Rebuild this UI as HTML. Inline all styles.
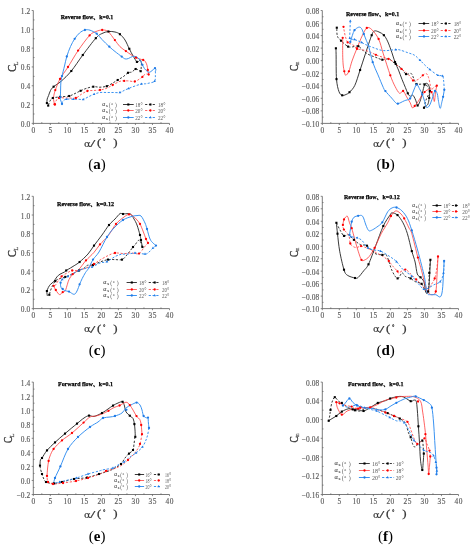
<!DOCTYPE html>
<html><head><meta charset="utf-8"><title>Figure</title><style>html,body{margin:0;padding:0;background:#fff;}svg{display:block;}</style></head><body>
<svg width="474" height="550" viewBox="0 0 474 550">
<style>text{font-family:"Liberation Serif","Noto Serif CJK SC",serif;} .tl{font-size:7.4px;fill:#5c5c5c;stroke:#5c5c5c;stroke-width:0.15px;} .ttl{font-size:6.6px;font-weight:bold;fill:#000;stroke:#000;stroke-width:0.25px;} .lg{font-size:5.6px;fill:#5a5a5a;} .ax{fill:#333;} .pl{fill:#000;}</style>
<rect width="474" height="550" fill="#fff"/>
<path d="M33.30,10.50 V123.40 H169.50" fill="none" stroke="#585858" stroke-width="0.8"/>
<path d="M33.30,123.40 h-1.6 M33.30,113.99 h1.2 M33.30,104.58 h-1.6 M33.30,95.17 h1.2 M33.30,85.77 h-1.6 M33.30,76.36 h1.2 M33.30,66.95 h-1.6 M33.30,57.54 h1.2 M33.30,48.13 h-1.6 M33.30,38.72 h1.2 M33.30,29.32 h-1.6 M33.30,19.91 h1.2 M33.30,10.50 h-1.6 M33.30,123.40 v1.6 M41.81,123.40 v-1.2 M50.32,123.40 v1.6 M58.84,123.40 v-1.2 M67.35,123.40 v1.6 M75.86,123.40 v-1.2 M84.38,123.40 v1.6 M92.89,123.40 v-1.2 M101.40,123.40 v1.6 M109.91,123.40 v-1.2 M118.42,123.40 v1.6 M126.94,123.40 v-1.2 M135.45,123.40 v1.6 M143.96,123.40 v-1.2 M152.47,123.40 v1.6 M160.99,123.40 v-1.2 M169.50,123.40 v1.6" stroke="#585858" stroke-width="0.7" fill="none"/>
<text x="30.30" y="126.90" text-anchor="end" textLength="9.45" lengthAdjust="spacing" class="tl">0.0</text>
<text x="30.30" y="108.08" text-anchor="end" textLength="9.45" lengthAdjust="spacing" class="tl">0.2</text>
<text x="30.30" y="89.27" text-anchor="end" textLength="9.45" lengthAdjust="spacing" class="tl">0.4</text>
<text x="30.30" y="70.45" text-anchor="end" textLength="9.45" lengthAdjust="spacing" class="tl">0.6</text>
<text x="30.30" y="51.63" text-anchor="end" textLength="9.45" lengthAdjust="spacing" class="tl">0.8</text>
<text x="30.30" y="32.82" text-anchor="end" textLength="9.45" lengthAdjust="spacing" class="tl">1.0</text>
<text x="30.30" y="14.00" text-anchor="end" textLength="9.45" lengthAdjust="spacing" class="tl">1.2</text>
<text x="33.30" y="133.20" text-anchor="middle" textLength="3.55" lengthAdjust="spacing" class="tl">0</text>
<text x="50.32" y="133.20" text-anchor="middle" textLength="3.55" lengthAdjust="spacing" class="tl">5</text>
<text x="67.35" y="133.20" text-anchor="middle" textLength="7.80" lengthAdjust="spacing" class="tl">10</text>
<text x="84.38" y="133.20" text-anchor="middle" textLength="7.80" lengthAdjust="spacing" class="tl">15</text>
<text x="101.40" y="133.20" text-anchor="middle" textLength="7.80" lengthAdjust="spacing" class="tl">20</text>
<text x="118.42" y="133.20" text-anchor="middle" textLength="7.80" lengthAdjust="spacing" class="tl">25</text>
<text x="135.45" y="133.20" text-anchor="middle" textLength="7.80" lengthAdjust="spacing" class="tl">30</text>
<text x="152.47" y="133.20" text-anchor="middle" textLength="7.80" lengthAdjust="spacing" class="tl">35</text>
<text x="169.50" y="133.20" text-anchor="middle" textLength="7.80" lengthAdjust="spacing" class="tl">40</text>
<path d="M322.30,10.50 V123.40 H458.50" fill="none" stroke="#585858" stroke-width="0.8"/>
<path d="M322.30,123.40 h-1.6 M322.30,117.13 h1.2 M322.30,110.86 h-1.6 M322.30,104.58 h1.2 M322.30,98.31 h-1.6 M322.30,92.04 h1.2 M322.30,85.77 h-1.6 M322.30,79.49 h1.2 M322.30,73.22 h-1.6 M322.30,66.95 h1.2 M322.30,60.68 h-1.6 M322.30,54.41 h1.2 M322.30,48.13 h-1.6 M322.30,41.86 h1.2 M322.30,35.59 h-1.6 M322.30,29.32 h1.2 M322.30,23.04 h-1.6 M322.30,16.77 h1.2 M322.30,10.50 h-1.6 M322.30,123.40 v1.6 M330.81,123.40 v-1.2 M339.32,123.40 v1.6 M347.84,123.40 v-1.2 M356.35,123.40 v1.6 M364.86,123.40 v-1.2 M373.38,123.40 v1.6 M381.89,123.40 v-1.2 M390.40,123.40 v1.6 M398.91,123.40 v-1.2 M407.43,123.40 v1.6 M415.94,123.40 v-1.2 M424.45,123.40 v1.6 M432.96,123.40 v-1.2 M441.48,123.40 v1.6 M449.99,123.40 v-1.2 M458.50,123.40 v1.6" stroke="#585858" stroke-width="0.7" fill="none"/>
<text x="319.30" y="126.90" text-anchor="end" textLength="17.70" lengthAdjust="spacing" class="tl">−0.10</text>
<text x="319.30" y="114.36" text-anchor="end" textLength="17.70" lengthAdjust="spacing" class="tl">−0.08</text>
<text x="319.30" y="101.81" text-anchor="end" textLength="17.70" lengthAdjust="spacing" class="tl">−0.06</text>
<text x="319.30" y="89.27" text-anchor="end" textLength="17.70" lengthAdjust="spacing" class="tl">−0.04</text>
<text x="319.30" y="76.72" text-anchor="end" textLength="17.70" lengthAdjust="spacing" class="tl">−0.02</text>
<text x="319.30" y="64.18" text-anchor="end" textLength="13.25" lengthAdjust="spacing" class="tl">0.00</text>
<text x="319.30" y="51.63" text-anchor="end" textLength="13.25" lengthAdjust="spacing" class="tl">0.02</text>
<text x="319.30" y="39.09" text-anchor="end" textLength="13.25" lengthAdjust="spacing" class="tl">0.04</text>
<text x="319.30" y="26.54" text-anchor="end" textLength="13.25" lengthAdjust="spacing" class="tl">0.06</text>
<text x="319.30" y="14.00" text-anchor="end" textLength="13.25" lengthAdjust="spacing" class="tl">0.08</text>
<text x="322.30" y="133.20" text-anchor="middle" textLength="3.55" lengthAdjust="spacing" class="tl">0</text>
<text x="339.32" y="133.20" text-anchor="middle" textLength="3.55" lengthAdjust="spacing" class="tl">5</text>
<text x="356.35" y="133.20" text-anchor="middle" textLength="7.80" lengthAdjust="spacing" class="tl">10</text>
<text x="373.38" y="133.20" text-anchor="middle" textLength="7.80" lengthAdjust="spacing" class="tl">15</text>
<text x="390.40" y="133.20" text-anchor="middle" textLength="7.80" lengthAdjust="spacing" class="tl">20</text>
<text x="407.43" y="133.20" text-anchor="middle" textLength="7.80" lengthAdjust="spacing" class="tl">25</text>
<text x="424.45" y="133.20" text-anchor="middle" textLength="7.80" lengthAdjust="spacing" class="tl">30</text>
<text x="441.48" y="133.20" text-anchor="middle" textLength="7.80" lengthAdjust="spacing" class="tl">35</text>
<text x="458.50" y="133.20" text-anchor="middle" textLength="7.80" lengthAdjust="spacing" class="tl">40</text>
<path d="M33.30,196.30 V308.60 H169.50" fill="none" stroke="#585858" stroke-width="0.8"/>
<path d="M33.30,308.60 h-1.6 M33.30,299.24 h1.2 M33.30,289.88 h-1.6 M33.30,280.53 h1.2 M33.30,271.17 h-1.6 M33.30,261.81 h1.2 M33.30,252.45 h-1.6 M33.30,243.09 h1.2 M33.30,233.73 h-1.6 M33.30,224.38 h1.2 M33.30,215.02 h-1.6 M33.30,205.66 h1.2 M33.30,196.30 h-1.6 M33.30,308.60 v1.6 M41.81,308.60 v-1.2 M50.32,308.60 v1.6 M58.84,308.60 v-1.2 M67.35,308.60 v1.6 M75.86,308.60 v-1.2 M84.38,308.60 v1.6 M92.89,308.60 v-1.2 M101.40,308.60 v1.6 M109.91,308.60 v-1.2 M118.42,308.60 v1.6 M126.94,308.60 v-1.2 M135.45,308.60 v1.6 M143.96,308.60 v-1.2 M152.47,308.60 v1.6 M160.99,308.60 v-1.2 M169.50,308.60 v1.6" stroke="#585858" stroke-width="0.7" fill="none"/>
<text x="30.30" y="312.10" text-anchor="end" textLength="9.45" lengthAdjust="spacing" class="tl">0.0</text>
<text x="30.30" y="293.38" text-anchor="end" textLength="9.45" lengthAdjust="spacing" class="tl">0.2</text>
<text x="30.30" y="274.67" text-anchor="end" textLength="9.45" lengthAdjust="spacing" class="tl">0.4</text>
<text x="30.30" y="255.95" text-anchor="end" textLength="9.45" lengthAdjust="spacing" class="tl">0.6</text>
<text x="30.30" y="237.23" text-anchor="end" textLength="9.45" lengthAdjust="spacing" class="tl">0.8</text>
<text x="30.30" y="218.52" text-anchor="end" textLength="9.45" lengthAdjust="spacing" class="tl">1.0</text>
<text x="30.30" y="199.80" text-anchor="end" textLength="9.45" lengthAdjust="spacing" class="tl">1.2</text>
<text x="33.30" y="318.40" text-anchor="middle" textLength="3.55" lengthAdjust="spacing" class="tl">0</text>
<text x="50.32" y="318.40" text-anchor="middle" textLength="3.55" lengthAdjust="spacing" class="tl">5</text>
<text x="67.35" y="318.40" text-anchor="middle" textLength="7.80" lengthAdjust="spacing" class="tl">10</text>
<text x="84.38" y="318.40" text-anchor="middle" textLength="7.80" lengthAdjust="spacing" class="tl">15</text>
<text x="101.40" y="318.40" text-anchor="middle" textLength="7.80" lengthAdjust="spacing" class="tl">20</text>
<text x="118.42" y="318.40" text-anchor="middle" textLength="7.80" lengthAdjust="spacing" class="tl">25</text>
<text x="135.45" y="318.40" text-anchor="middle" textLength="7.80" lengthAdjust="spacing" class="tl">30</text>
<text x="152.47" y="318.40" text-anchor="middle" textLength="7.80" lengthAdjust="spacing" class="tl">35</text>
<text x="169.50" y="318.40" text-anchor="middle" textLength="7.80" lengthAdjust="spacing" class="tl">40</text>
<path d="M322.30,196.30 V308.60 H458.50" fill="none" stroke="#585858" stroke-width="0.8"/>
<path d="M322.30,308.60 h-1.6 M322.30,302.36 h1.2 M322.30,296.12 h-1.6 M322.30,289.88 h1.2 M322.30,283.64 h-1.6 M322.30,277.41 h1.2 M322.30,271.17 h-1.6 M322.30,264.93 h1.2 M322.30,258.69 h-1.6 M322.30,252.45 h1.2 M322.30,246.21 h-1.6 M322.30,239.97 h1.2 M322.30,233.73 h-1.6 M322.30,227.49 h1.2 M322.30,221.26 h-1.6 M322.30,215.02 h1.2 M322.30,208.78 h-1.6 M322.30,202.54 h1.2 M322.30,196.30 h-1.6 M322.30,308.60 v1.6 M330.81,308.60 v-1.2 M339.32,308.60 v1.6 M347.84,308.60 v-1.2 M356.35,308.60 v1.6 M364.86,308.60 v-1.2 M373.38,308.60 v1.6 M381.89,308.60 v-1.2 M390.40,308.60 v1.6 M398.91,308.60 v-1.2 M407.43,308.60 v1.6 M415.94,308.60 v-1.2 M424.45,308.60 v1.6 M432.96,308.60 v-1.2 M441.48,308.60 v1.6 M449.99,308.60 v-1.2 M458.50,308.60 v1.6" stroke="#585858" stroke-width="0.7" fill="none"/>
<text x="319.30" y="312.10" text-anchor="end" textLength="17.70" lengthAdjust="spacing" class="tl">−0.10</text>
<text x="319.30" y="299.62" text-anchor="end" textLength="17.70" lengthAdjust="spacing" class="tl">−0.08</text>
<text x="319.30" y="287.14" text-anchor="end" textLength="17.70" lengthAdjust="spacing" class="tl">−0.06</text>
<text x="319.30" y="274.67" text-anchor="end" textLength="17.70" lengthAdjust="spacing" class="tl">−0.04</text>
<text x="319.30" y="262.19" text-anchor="end" textLength="17.70" lengthAdjust="spacing" class="tl">−0.02</text>
<text x="319.30" y="249.71" text-anchor="end" textLength="13.25" lengthAdjust="spacing" class="tl">0.00</text>
<text x="319.30" y="237.23" text-anchor="end" textLength="13.25" lengthAdjust="spacing" class="tl">0.02</text>
<text x="319.30" y="224.76" text-anchor="end" textLength="13.25" lengthAdjust="spacing" class="tl">0.04</text>
<text x="319.30" y="212.28" text-anchor="end" textLength="13.25" lengthAdjust="spacing" class="tl">0.06</text>
<text x="319.30" y="199.80" text-anchor="end" textLength="13.25" lengthAdjust="spacing" class="tl">0.08</text>
<text x="322.30" y="318.40" text-anchor="middle" textLength="3.55" lengthAdjust="spacing" class="tl">0</text>
<text x="339.32" y="318.40" text-anchor="middle" textLength="3.55" lengthAdjust="spacing" class="tl">5</text>
<text x="356.35" y="318.40" text-anchor="middle" textLength="7.80" lengthAdjust="spacing" class="tl">10</text>
<text x="373.38" y="318.40" text-anchor="middle" textLength="7.80" lengthAdjust="spacing" class="tl">15</text>
<text x="390.40" y="318.40" text-anchor="middle" textLength="7.80" lengthAdjust="spacing" class="tl">20</text>
<text x="407.43" y="318.40" text-anchor="middle" textLength="7.80" lengthAdjust="spacing" class="tl">25</text>
<text x="424.45" y="318.40" text-anchor="middle" textLength="7.80" lengthAdjust="spacing" class="tl">30</text>
<text x="441.48" y="318.40" text-anchor="middle" textLength="7.80" lengthAdjust="spacing" class="tl">35</text>
<text x="458.50" y="318.40" text-anchor="middle" textLength="7.80" lengthAdjust="spacing" class="tl">40</text>
<path d="M33.30,382.10 V494.50 H169.50" fill="none" stroke="#585858" stroke-width="0.8"/>
<path d="M33.30,494.50 h-1.6 M33.30,487.48 h1.2 M33.30,480.45 h-1.6 M33.30,473.43 h1.2 M33.30,466.40 h-1.6 M33.30,459.38 h1.2 M33.30,452.35 h-1.6 M33.30,445.32 h1.2 M33.30,438.30 h-1.6 M33.30,431.28 h1.2 M33.30,424.25 h-1.6 M33.30,417.23 h1.2 M33.30,410.20 h-1.6 M33.30,403.18 h1.2 M33.30,396.15 h-1.6 M33.30,389.12 h1.2 M33.30,382.10 h-1.6 M33.30,494.50 v1.6 M41.81,494.50 v-1.2 M50.32,494.50 v1.6 M58.84,494.50 v-1.2 M67.35,494.50 v1.6 M75.86,494.50 v-1.2 M84.38,494.50 v1.6 M92.89,494.50 v-1.2 M101.40,494.50 v1.6 M109.91,494.50 v-1.2 M118.42,494.50 v1.6 M126.94,494.50 v-1.2 M135.45,494.50 v1.6 M143.96,494.50 v-1.2 M152.47,494.50 v1.6 M160.99,494.50 v-1.2 M169.50,494.50 v1.6" stroke="#585858" stroke-width="0.7" fill="none"/>
<text x="30.30" y="498.00" text-anchor="end" textLength="13.90" lengthAdjust="spacing" class="tl">−0.2</text>
<text x="30.30" y="483.95" text-anchor="end" textLength="9.45" lengthAdjust="spacing" class="tl">0.0</text>
<text x="30.30" y="469.90" text-anchor="end" textLength="9.45" lengthAdjust="spacing" class="tl">0.2</text>
<text x="30.30" y="455.85" text-anchor="end" textLength="9.45" lengthAdjust="spacing" class="tl">0.4</text>
<text x="30.30" y="441.80" text-anchor="end" textLength="9.45" lengthAdjust="spacing" class="tl">0.6</text>
<text x="30.30" y="427.75" text-anchor="end" textLength="9.45" lengthAdjust="spacing" class="tl">0.8</text>
<text x="30.30" y="413.70" text-anchor="end" textLength="9.45" lengthAdjust="spacing" class="tl">1.0</text>
<text x="30.30" y="399.65" text-anchor="end" textLength="9.45" lengthAdjust="spacing" class="tl">1.2</text>
<text x="30.30" y="385.60" text-anchor="end" textLength="9.45" lengthAdjust="spacing" class="tl">1.4</text>
<text x="33.30" y="504.30" text-anchor="middle" textLength="3.55" lengthAdjust="spacing" class="tl">0</text>
<text x="50.32" y="504.30" text-anchor="middle" textLength="3.55" lengthAdjust="spacing" class="tl">5</text>
<text x="67.35" y="504.30" text-anchor="middle" textLength="7.80" lengthAdjust="spacing" class="tl">10</text>
<text x="84.38" y="504.30" text-anchor="middle" textLength="7.80" lengthAdjust="spacing" class="tl">15</text>
<text x="101.40" y="504.30" text-anchor="middle" textLength="7.80" lengthAdjust="spacing" class="tl">20</text>
<text x="118.42" y="504.30" text-anchor="middle" textLength="7.80" lengthAdjust="spacing" class="tl">25</text>
<text x="135.45" y="504.30" text-anchor="middle" textLength="7.80" lengthAdjust="spacing" class="tl">30</text>
<text x="152.47" y="504.30" text-anchor="middle" textLength="7.80" lengthAdjust="spacing" class="tl">35</text>
<text x="169.50" y="504.30" text-anchor="middle" textLength="7.80" lengthAdjust="spacing" class="tl">40</text>
<path d="M322.30,382.10 V494.50 H458.50" fill="none" stroke="#585858" stroke-width="0.8"/>
<path d="M322.30,494.50 h-1.6 M322.30,485.13 h1.2 M322.30,475.77 h-1.6 M322.30,466.40 h1.2 M322.30,457.03 h-1.6 M322.30,447.67 h1.2 M322.30,438.30 h-1.6 M322.30,428.93 h1.2 M322.30,419.57 h-1.6 M322.30,410.20 h1.2 M322.30,400.83 h-1.6 M322.30,391.47 h1.2 M322.30,382.10 h-1.6 M322.30,494.50 v1.6 M330.81,494.50 v-1.2 M339.32,494.50 v1.6 M347.84,494.50 v-1.2 M356.35,494.50 v1.6 M364.86,494.50 v-1.2 M373.38,494.50 v1.6 M381.89,494.50 v-1.2 M390.40,494.50 v1.6 M398.91,494.50 v-1.2 M407.43,494.50 v1.6 M415.94,494.50 v-1.2 M424.45,494.50 v1.6 M432.96,494.50 v-1.2 M441.48,494.50 v1.6 M449.99,494.50 v-1.2 M458.50,494.50 v1.6" stroke="#585858" stroke-width="0.7" fill="none"/>
<text x="319.30" y="498.00" text-anchor="end" textLength="17.70" lengthAdjust="spacing" class="tl">−0.16</text>
<text x="319.30" y="479.27" text-anchor="end" textLength="17.70" lengthAdjust="spacing" class="tl">−0.12</text>
<text x="319.30" y="460.53" text-anchor="end" textLength="17.70" lengthAdjust="spacing" class="tl">−0.08</text>
<text x="319.30" y="441.80" text-anchor="end" textLength="17.70" lengthAdjust="spacing" class="tl">−0.04</text>
<text x="319.30" y="423.07" text-anchor="end" textLength="13.25" lengthAdjust="spacing" class="tl">0.00</text>
<text x="319.30" y="404.33" text-anchor="end" textLength="13.25" lengthAdjust="spacing" class="tl">0.04</text>
<text x="319.30" y="385.60" text-anchor="end" textLength="13.25" lengthAdjust="spacing" class="tl">0.08</text>
<text x="322.30" y="504.30" text-anchor="middle" textLength="3.55" lengthAdjust="spacing" class="tl">0</text>
<text x="339.32" y="504.30" text-anchor="middle" textLength="3.55" lengthAdjust="spacing" class="tl">5</text>
<text x="356.35" y="504.30" text-anchor="middle" textLength="7.80" lengthAdjust="spacing" class="tl">10</text>
<text x="373.38" y="504.30" text-anchor="middle" textLength="7.80" lengthAdjust="spacing" class="tl">15</text>
<text x="390.40" y="504.30" text-anchor="middle" textLength="7.80" lengthAdjust="spacing" class="tl">20</text>
<text x="407.43" y="504.30" text-anchor="middle" textLength="7.80" lengthAdjust="spacing" class="tl">25</text>
<text x="424.45" y="504.30" text-anchor="middle" textLength="7.80" lengthAdjust="spacing" class="tl">30</text>
<text x="441.48" y="504.30" text-anchor="middle" textLength="7.80" lengthAdjust="spacing" class="tl">35</text>
<text x="458.50" y="504.30" text-anchor="middle" textLength="7.80" lengthAdjust="spacing" class="tl">40</text>
<path d="M46.90,103.10 C46.95,102.42 46.92,100.27 47.20,99.00 C47.48,97.73 48.05,96.92 48.60,95.50 C49.15,94.08 49.67,91.97 50.50,90.50 C51.33,89.03 51.82,88.25 53.60,86.70 C55.38,85.15 58.25,83.82 61.20,81.20 C64.15,78.58 67.70,75.37 71.30,71.00 C74.90,66.63 78.72,60.47 82.80,55.00 C86.88,49.53 92.60,41.78 95.80,38.20 C99.00,34.62 99.90,34.62 102.00,33.50 C104.10,32.38 106.23,31.75 108.40,31.50 C110.57,31.25 113.08,31.55 115.00,32.00 C116.92,32.45 118.23,32.87 119.90,34.20 C121.57,35.53 123.43,37.57 125.00,40.00 C126.57,42.43 127.95,46.13 129.30,48.80 C130.65,51.47 131.83,53.82 133.10,56.00 C134.37,58.18 135.98,60.98 136.90,61.90 C137.82,62.82 138.03,61.82 138.60,61.50 C139.17,61.18 139.82,59.73 140.30,60.00 C140.78,60.27 141.30,62.58 141.50,63.10" fill="none" stroke="#222" stroke-width="0.90" stroke-linejoin="round"/>
<path d="M141.50,63.10 C141.45,63.75 141.33,65.65 141.20,67.00 C141.07,68.35 141.22,70.72 140.70,71.20 C140.18,71.68 138.95,70.27 138.10,69.90 C137.25,69.53 136.65,68.65 135.60,69.00 C134.55,69.35 133.07,71.37 131.80,72.00 C130.53,72.63 129.40,72.03 128.00,72.80 C126.60,73.57 125.12,75.40 123.40,76.60 C121.68,77.80 119.60,78.85 117.70,80.00 C115.80,81.15 113.82,82.47 112.00,83.50 C110.18,84.53 108.80,85.58 106.80,86.20 C104.80,86.82 102.25,87.12 100.00,87.20 C97.75,87.28 95.63,86.48 93.30,86.70 C90.97,86.92 88.12,87.82 86.00,88.50 C83.88,89.18 82.43,89.97 80.60,90.80 C78.77,91.63 76.90,92.63 75.00,93.50 C73.10,94.37 71.70,95.43 69.20,96.00 C66.70,96.57 62.73,96.57 60.00,96.90 C57.27,97.23 54.47,97.32 52.80,98.00 C51.13,98.68 50.77,99.73 50.00,101.00 C49.23,102.27 48.50,104.83 48.20,105.60" fill="none" stroke="#222" stroke-width="0.90" stroke-linejoin="round" stroke-dasharray="2.2,1.6"/>
<path d="M54.50,104.00 C54.38,103.50 53.95,102.17 53.80,101.00 C53.65,99.83 53.35,98.82 53.60,97.00 C53.85,95.18 54.23,93.10 55.30,90.10 C56.37,87.10 57.88,82.85 60.00,79.00 C62.12,75.15 64.98,71.73 68.00,67.00 C71.02,62.27 74.50,55.87 78.10,50.60 C81.70,45.33 86.62,38.58 89.60,35.40 C92.58,32.22 93.90,32.40 96.00,31.50 C98.10,30.60 100.20,30.00 102.20,30.00 C104.20,30.00 105.88,29.82 108.00,31.50 C110.12,33.18 112.90,37.57 114.90,40.10 C116.90,42.63 118.17,44.87 120.00,46.70 C121.83,48.53 124.07,49.77 125.90,51.10 C127.73,52.43 129.32,53.60 131.00,54.70 C132.68,55.80 134.60,57.00 136.00,57.70 C137.40,58.40 138.20,58.52 139.40,58.90 C140.60,59.28 142.22,59.57 143.20,60.00 C144.18,60.43 144.67,60.62 145.30,61.50 C145.93,62.38 146.58,63.90 147.00,65.30 C147.42,66.70 147.52,68.37 147.80,69.90 C148.08,71.43 148.55,73.73 148.70,74.50" fill="none" stroke="#ff3b3b" stroke-width="0.80" stroke-linejoin="round"/>
<path d="M148.70,74.50 C148.13,74.43 146.35,73.70 145.30,74.10 C144.25,74.50 143.32,76.12 142.40,76.90 C141.48,77.68 141.07,78.03 139.80,78.80 C138.53,79.57 136.70,81.15 134.80,81.50 C132.90,81.85 130.17,81.00 128.40,80.90 C126.63,80.80 125.60,80.83 124.20,80.90 C122.80,80.97 121.92,80.62 120.00,81.30 C118.08,81.98 115.03,83.80 112.70,85.00 C110.37,86.20 108.12,87.67 106.00,88.50 C103.88,89.33 102.17,89.67 100.00,90.00 C97.83,90.33 95.10,90.33 93.00,90.50 C90.90,90.67 89.40,90.33 87.40,91.00 C85.40,91.67 82.92,93.33 81.00,94.50 C79.08,95.67 78.07,97.42 75.90,98.00 C73.73,98.58 70.82,98.00 68.00,98.00 C65.18,98.00 61.00,97.50 59.00,98.00 C57.00,98.50 56.67,99.92 56.00,101.00 C55.33,102.08 55.17,103.92 55.00,104.50" fill="none" stroke="#ff3b3b" stroke-width="0.80" stroke-linejoin="round" stroke-dasharray="2.2,1.6"/>
<path d="M62.00,104.00 C61.77,103.33 60.87,101.13 60.60,100.00 C60.33,98.87 60.40,98.87 60.40,97.20 C60.40,95.53 60.52,92.53 60.60,90.00 C60.68,87.47 60.67,84.32 60.90,82.00 C61.13,79.68 61.40,78.77 62.00,76.10 C62.60,73.43 63.70,69.27 64.50,66.00 C65.30,62.73 65.80,59.75 66.80,56.50 C67.80,53.25 69.18,49.45 70.50,46.50 C71.82,43.55 73.20,41.05 74.70,38.80 C76.20,36.55 77.80,34.47 79.50,33.00 C81.20,31.53 83.15,30.47 84.90,30.00 C86.65,29.53 88.03,29.58 90.00,30.20 C91.97,30.82 94.70,32.15 96.70,33.70 C98.70,35.25 99.90,37.33 102.00,39.50 C104.10,41.67 107.13,44.70 109.30,46.70 C111.47,48.70 112.93,49.85 115.00,51.50 C117.07,53.15 120.02,55.37 121.70,56.60 C123.38,57.83 123.98,58.58 125.10,58.90 C126.22,59.22 127.13,58.92 128.40,58.50 C129.67,58.08 131.35,56.68 132.70,56.40 C134.05,56.12 135.45,56.38 136.50,56.80 C137.55,57.22 138.23,58.05 139.00,58.90 C139.77,59.75 140.53,60.92 141.10,61.90 C141.67,62.88 141.83,63.68 142.40,64.80 C142.97,65.92 143.73,67.53 144.50,68.60 C145.27,69.67 146.30,70.57 147.00,71.20 C147.70,71.83 148.07,72.33 148.70,72.40 C149.33,72.47 150.03,72.08 150.80,71.60 C151.57,71.12 152.60,70.07 153.30,69.50 C154.00,68.93 154.57,68.20 155.00,68.20 C155.43,68.20 155.83,69.00 155.90,69.50 C155.97,70.00 155.48,70.92 155.40,71.20" fill="none" stroke="#3a93f2" stroke-width="1.00" stroke-linejoin="round"/>
<path d="M155.40,71.20 C155.40,71.90 155.53,73.72 155.40,75.40 C155.27,77.08 155.58,80.03 154.60,81.30 C153.62,82.57 151.05,82.58 149.50,83.00 C147.95,83.42 146.65,83.63 145.30,83.80 C143.95,83.97 143.12,83.63 141.40,84.00 C139.68,84.37 137.12,85.27 135.00,86.00 C132.88,86.73 130.53,87.65 128.70,88.40 C126.87,89.15 125.47,89.82 124.00,90.50 C122.53,91.18 121.73,92.17 119.90,92.50 C118.07,92.83 115.18,92.50 113.00,92.50 C110.82,92.50 108.97,92.50 106.80,92.50 C104.63,92.50 102.12,92.22 100.00,92.50 C97.88,92.78 96.10,93.45 94.10,94.20 C92.10,94.95 89.82,96.13 88.00,97.00 C86.18,97.87 84.87,99.03 83.20,99.40 C81.53,99.77 79.62,99.23 78.00,99.20 C76.38,99.17 75.45,99.20 73.50,99.20 C71.55,99.20 68.05,98.90 66.30,99.20 C64.55,99.50 63.72,100.20 63.00,101.00 C62.28,101.80 62.17,103.50 62.00,104.00" fill="none" stroke="#3a93f2" stroke-width="1.00" stroke-linejoin="round" stroke-dasharray="2.2,1.6"/>
<rect x="45.85" y="102.05" width="2.1" height="2.1" fill="#000"/>
<rect x="52.55" y="85.65" width="2.1" height="2.1" fill="#000"/>
<rect x="70.25" y="69.95" width="2.1" height="2.1" fill="#000"/>
<rect x="81.75" y="53.95" width="2.1" height="2.1" fill="#000"/>
<rect x="94.75" y="37.15" width="2.1" height="2.1" fill="#000"/>
<rect x="107.35" y="30.45" width="2.1" height="2.1" fill="#000"/>
<rect x="118.85" y="33.15" width="2.1" height="2.1" fill="#000"/>
<rect x="128.25" y="47.75" width="2.1" height="2.1" fill="#000"/>
<rect x="135.85" y="60.85" width="2.1" height="2.1" fill="#000"/>
<rect x="139.65" y="70.15" width="2.1" height="2.1" fill="#000"/>
<rect x="134.55" y="67.95" width="2.1" height="2.1" fill="#000"/>
<rect x="126.95" y="71.75" width="2.1" height="2.1" fill="#000"/>
<rect x="116.65" y="78.95" width="2.1" height="2.1" fill="#000"/>
<rect x="105.75" y="85.15" width="2.1" height="2.1" fill="#000"/>
<rect x="92.25" y="85.65" width="2.1" height="2.1" fill="#000"/>
<rect x="79.55" y="89.75" width="2.1" height="2.1" fill="#000"/>
<rect x="68.15" y="94.95" width="2.1" height="2.1" fill="#000"/>
<rect x="58.95" y="95.85" width="2.1" height="2.1" fill="#000"/>
<rect x="51.75" y="96.95" width="2.1" height="2.1" fill="#000"/>
<rect x="47.15" y="104.55" width="2.1" height="2.1" fill="#000"/>
<circle cx="54.50" cy="104.30" r="1.15" fill="#ff0000"/>
<circle cx="55.30" cy="90.10" r="1.15" fill="#ff0000"/>
<circle cx="60.00" cy="79.00" r="1.15" fill="#ff0000"/>
<circle cx="68.00" cy="67.00" r="1.15" fill="#ff0000"/>
<circle cx="78.10" cy="50.60" r="1.15" fill="#ff0000"/>
<circle cx="89.60" cy="35.40" r="1.15" fill="#ff0000"/>
<circle cx="102.20" cy="30.00" r="1.15" fill="#ff0000"/>
<circle cx="114.90" cy="40.10" r="1.15" fill="#ff0000"/>
<circle cx="125.90" cy="51.10" r="1.15" fill="#ff0000"/>
<circle cx="136.00" cy="57.70" r="1.15" fill="#ff0000"/>
<circle cx="143.20" cy="60.00" r="1.15" fill="#ff0000"/>
<circle cx="147.80" cy="69.90" r="1.15" fill="#ff0000"/>
<circle cx="148.70" cy="74.50" r="1.15" fill="#ff0000"/>
<circle cx="142.40" cy="76.90" r="1.15" fill="#ff0000"/>
<circle cx="134.80" cy="81.50" r="1.15" fill="#ff0000"/>
<circle cx="124.20" cy="80.90" r="1.15" fill="#ff0000"/>
<circle cx="112.70" cy="85.00" r="1.15" fill="#ff0000"/>
<circle cx="100.00" cy="90.00" r="1.15" fill="#ff0000"/>
<circle cx="87.40" cy="91.00" r="1.15" fill="#ff0000"/>
<circle cx="75.90" cy="98.00" r="1.15" fill="#ff0000"/>
<circle cx="59.00" cy="98.00" r="1.15" fill="#ff0000"/>
<circle cx="55.00" cy="104.50" r="1.15" fill="#ff0000"/>
<circle cx="62.00" cy="104.00" r="1.15" fill="#1f7ae6"/>
<circle cx="60.40" cy="97.20" r="1.15" fill="#1f7ae6"/>
<circle cx="62.00" cy="76.10" r="1.15" fill="#1f7ae6"/>
<circle cx="66.80" cy="56.50" r="1.15" fill="#1f7ae6"/>
<circle cx="74.70" cy="38.80" r="1.15" fill="#1f7ae6"/>
<circle cx="84.90" cy="30.00" r="1.15" fill="#1f7ae6"/>
<circle cx="96.70" cy="33.70" r="1.15" fill="#1f7ae6"/>
<circle cx="109.30" cy="46.70" r="1.15" fill="#1f7ae6"/>
<circle cx="121.70" cy="56.60" r="1.15" fill="#1f7ae6"/>
<circle cx="142.40" cy="64.80" r="1.15" fill="#1f7ae6"/>
<circle cx="155.00" cy="68.20" r="1.15" fill="#1f7ae6"/>
<path d="M154.60,79.90 l1.3,2.2 h-2.6z" fill="#1f7ae6"/>
<path d="M141.40,82.60 l1.3,2.2 h-2.6z" fill="#1f7ae6"/>
<path d="M128.70,87.00 l1.3,2.2 h-2.6z" fill="#1f7ae6"/>
<path d="M119.90,91.10 l1.3,2.2 h-2.6z" fill="#1f7ae6"/>
<path d="M94.10,92.80 l1.3,2.2 h-2.6z" fill="#1f7ae6"/>
<path d="M83.20,98.00 l1.3,2.2 h-2.6z" fill="#1f7ae6"/>
<path d="M73.50,97.80 l1.3,2.2 h-2.6z" fill="#1f7ae6"/>
<path d="M66.30,97.80 l1.3,2.2 h-2.6z" fill="#1f7ae6"/>
<path d="M335.90,48.30 C335.93,49.37 336.00,49.57 336.10,54.70 C336.20,59.83 336.02,72.93 336.50,79.10 C336.98,85.27 338.05,89.00 339.00,91.70 C339.95,94.40 341.03,94.83 342.20,95.30 C343.37,95.77 344.78,95.02 346.00,94.50 C347.22,93.98 348.03,93.72 349.50,92.20 C350.97,90.68 353.03,89.10 354.80,85.40 C356.57,81.70 358.33,75.27 360.10,70.00 C361.87,64.73 363.47,59.60 365.40,53.80 C367.33,48.00 370.20,39.00 371.70,35.20 C373.20,31.40 373.18,31.53 374.40,31.00 C375.62,30.47 377.42,31.30 379.00,32.00 C380.58,32.70 382.48,33.68 383.90,35.20 C385.32,36.72 386.32,38.63 387.50,41.10 C388.68,43.57 389.75,46.52 391.00,50.00 C392.25,53.48 393.75,58.65 395.00,62.00 C396.25,65.35 397.33,67.20 398.50,70.10 C399.67,73.00 400.85,76.50 402.00,79.40 C403.15,82.30 404.43,85.18 405.40,87.50 C406.37,89.82 407.02,91.85 407.80,93.30 C408.58,94.75 409.33,95.92 410.10,96.20 C410.87,96.48 411.73,94.90 412.40,95.00 C413.07,95.10 413.52,95.83 414.10,96.80 C414.68,97.77 415.32,99.35 415.90,100.80 C416.48,102.25 416.92,105.40 417.60,105.50 C418.28,105.60 419.22,103.43 420.00,101.40 C420.78,99.37 421.53,96.10 422.30,93.30 C423.07,90.50 423.83,86.25 424.60,84.60 C425.37,82.95 426.23,83.30 426.90,83.40 C427.57,83.50 428.12,84.13 428.60,85.20 C429.08,86.27 429.70,87.68 429.80,89.80 C429.90,91.92 429.48,95.58 429.20,97.90 C428.92,100.22 428.58,102.35 428.10,103.70 C427.62,105.05 426.98,105.32 426.30,106.00 C425.62,106.68 424.38,107.50 424.00,107.80" fill="none" stroke="#222" stroke-width="0.90" stroke-linejoin="round"/>
<path d="M424.00,107.80 C424.33,106.50 425.03,102.80 426.00,100.00 C426.97,97.20 429.63,93.33 429.80,91.00 C429.97,88.67 427.77,87.17 427.00,86.00 C426.23,84.83 426.37,84.30 425.20,84.00 C424.03,83.70 421.45,84.20 420.00,84.20 C418.55,84.20 417.57,85.00 416.50,84.00 C415.43,83.00 414.48,79.95 413.60,78.20 C412.72,76.45 412.47,74.18 411.20,73.50 C409.93,72.82 407.63,74.97 406.00,74.10 C404.37,73.23 403.23,70.03 401.40,68.30 C399.57,66.57 397.07,65.25 395.00,63.70 C392.93,62.15 391.12,59.67 389.00,59.00 C386.88,58.33 384.52,59.98 382.30,59.70 C380.08,59.42 377.92,58.13 375.70,57.30 C373.48,56.47 370.98,55.70 369.00,54.70 C367.02,53.70 365.58,52.72 363.80,51.30 C362.02,49.88 360.27,46.92 358.30,46.20 C356.33,45.48 353.70,46.93 352.00,47.00 C350.30,47.07 349.43,47.18 348.10,46.60 C346.77,46.02 345.18,44.48 344.00,43.50 C342.82,42.52 342.00,41.70 341.00,40.70 C340.00,39.70 338.67,38.62 338.00,37.50 C337.33,36.38 337.20,35.63 337.00,34.00 C336.80,32.37 336.83,28.75 336.80,27.70" fill="none" stroke="#222" stroke-width="0.90" stroke-linejoin="round" stroke-dasharray="2.2,1.6"/>
<path d="M342.70,37.80 C342.70,40.62 342.62,50.17 342.70,54.70 C342.78,59.23 342.93,62.23 343.20,65.00 C343.47,67.77 343.88,69.58 344.30,71.30 C344.72,73.02 344.93,75.30 345.70,75.30 C346.47,75.30 347.85,73.68 348.90,71.30 C349.95,68.92 350.67,64.80 352.00,61.00 C353.33,57.20 355.20,52.70 356.90,48.50 C358.60,44.30 360.55,39.22 362.20,35.80 C363.85,32.38 365.22,29.05 366.80,28.00 C368.38,26.95 369.73,27.67 371.70,29.50 C373.67,31.33 376.67,34.95 378.60,39.00 C380.53,43.05 381.35,47.75 383.30,53.80 C385.25,59.85 388.35,69.88 390.30,75.30 C392.25,80.72 393.45,83.30 395.00,86.30 C396.55,89.30 398.25,92.52 399.60,93.30 C400.95,94.08 401.93,90.42 403.10,91.00 C404.27,91.58 405.43,94.87 406.60,96.80 C407.77,98.73 409.13,100.77 410.10,102.60 C411.07,104.43 411.63,107.23 412.40,107.80 C413.17,108.37 413.73,107.07 414.70,106.00 C415.67,104.93 417.03,103.13 418.20,101.40 C419.37,99.67 420.63,97.15 421.70,95.60 C422.77,94.05 423.63,93.07 424.60,92.10 C425.57,91.13 426.68,90.23 427.50,89.80 C428.32,89.37 428.83,89.12 429.50,89.50 C430.17,89.88 430.87,90.88 431.50,92.10 C432.13,93.32 432.82,95.25 433.30,96.80 C433.78,98.35 434.02,102.18 434.40,101.40 C434.78,100.62 435.20,94.72 435.60,92.10 C436.00,89.48 436.60,86.77 436.80,85.70" fill="none" stroke="#ff3b3b" stroke-width="0.80" stroke-linejoin="round"/>
<path d="M436.80,85.70 C436.17,86.08 433.88,86.93 433.00,88.00 C432.12,89.07 431.93,92.48 431.50,92.10 C431.07,91.72 430.88,88.12 430.40,85.70 C429.92,83.28 429.28,79.62 428.60,77.60 C427.92,75.58 427.27,73.98 426.30,73.60 C425.33,73.22 424.15,74.33 422.80,75.30 C421.45,76.27 419.83,78.53 418.20,79.40 C416.57,80.27 414.35,80.98 413.00,80.50 C411.65,80.02 411.17,77.75 410.10,76.50 C409.03,75.25 408.05,74.27 406.60,73.00 C405.15,71.73 402.57,69.77 401.40,68.90 C400.23,68.03 400.67,68.78 399.60,67.80 C398.53,66.82 396.83,64.47 395.00,63.00 C393.17,61.53 390.77,60.00 388.60,59.00 C386.43,58.00 384.12,57.70 382.00,57.00 C379.88,56.30 377.90,55.63 375.90,54.80 C373.90,53.97 371.93,52.77 370.00,52.00 C368.07,51.23 366.47,50.73 364.30,50.20 C362.13,49.67 358.57,49.47 357.00,48.80 C355.43,48.13 355.90,47.00 354.90,46.20 C353.90,45.40 352.20,44.63 351.00,44.00 C349.80,43.37 348.62,43.57 347.70,42.40 C346.78,41.23 346.08,38.90 345.50,37.00 C344.92,35.10 344.53,32.70 344.20,31.00 C343.87,29.30 343.62,27.50 343.50,26.80" fill="none" stroke="#ff3b3b" stroke-width="0.80" stroke-linejoin="round" stroke-dasharray="2.2,1.6"/>
<path d="M350.30,42.00 C350.65,40.88 351.70,37.27 352.40,35.30 C353.10,33.33 353.45,31.55 354.50,30.20 C355.55,28.85 357.53,27.48 358.70,27.20 C359.87,26.92 360.65,27.37 361.50,28.50 C362.35,29.63 363.00,32.03 363.80,34.00 C364.60,35.97 365.47,38.13 366.30,40.30 C367.13,42.47 367.73,43.35 368.80,47.00 C369.87,50.65 371.17,57.55 372.70,62.20 C374.23,66.85 376.23,70.68 378.00,74.90 C379.77,79.12 382.07,84.80 383.30,87.50 C384.53,90.20 384.00,89.33 385.40,91.10 C386.80,92.87 390.10,96.28 391.70,98.10 C393.30,99.92 393.97,101.07 395.00,102.00 C396.03,102.93 396.35,103.90 397.90,103.70 C399.45,103.50 402.27,101.67 404.30,100.80 C406.33,99.93 408.65,99.95 410.10,98.50 C411.55,97.05 411.93,94.42 413.00,92.10 C414.07,89.78 415.43,85.18 416.50,84.60 C417.57,84.02 418.43,86.97 419.40,88.60 C420.37,90.23 421.43,92.27 422.30,94.40 C423.17,96.53 423.93,99.27 424.60,101.40 C425.27,103.53 425.53,106.43 426.30,107.20 C427.07,107.97 428.23,107.35 429.20,106.00 C430.17,104.65 431.13,101.60 432.10,99.10 C433.07,96.60 434.13,91.87 435.00,91.00 C435.87,90.13 436.72,92.17 437.30,93.90 C437.88,95.63 438.02,98.98 438.50,101.40 C438.98,103.82 439.62,108.40 440.20,108.40 C440.78,108.40 441.52,103.33 442.00,101.40 C442.48,99.47 442.72,98.73 443.10,96.80 C443.48,94.87 444.10,90.97 444.30,89.80" fill="none" stroke="#3a93f2" stroke-width="1.00" stroke-linejoin="round"/>
<path d="M444.30,89.80 C444.20,88.45 443.98,84.02 443.70,81.70 C443.42,79.38 443.57,76.97 442.60,75.90 C441.63,74.83 440.03,76.37 437.90,75.30 C435.77,74.23 431.92,71.15 429.80,69.50 C427.68,67.85 426.83,66.95 425.20,65.40 C423.57,63.85 421.55,61.73 420.00,60.20 C418.45,58.67 417.08,57.17 415.90,56.20 C414.72,55.23 414.20,54.97 412.90,54.40 C411.60,53.83 410.25,53.53 408.10,52.80 C405.95,52.07 402.07,50.53 400.00,50.00 C397.93,49.47 398.48,49.50 395.70,49.60 C392.92,49.70 387.13,50.97 383.30,50.60 C379.47,50.23 375.68,48.42 372.70,47.40 C369.72,46.38 367.25,45.33 365.40,44.50 C363.55,43.67 363.00,43.07 361.60,42.40 C360.20,41.73 358.18,40.98 357.00,40.50 C355.82,40.02 355.42,39.72 354.50,39.50 C353.58,39.28 352.28,39.42 351.50,39.20 C350.72,38.98 350.05,39.73 349.80,38.20 C349.55,36.67 349.92,32.88 350.00,30.00 C350.08,27.12 350.25,22.42 350.30,20.90" fill="none" stroke="#3a93f2" stroke-width="1.00" stroke-linejoin="round" stroke-dasharray="2.2,1.6"/>
<rect x="334.85" y="47.25" width="2.1" height="2.1" fill="#000"/>
<rect x="335.45" y="78.05" width="2.1" height="2.1" fill="#000"/>
<rect x="341.15" y="94.25" width="2.1" height="2.1" fill="#000"/>
<rect x="348.45" y="91.15" width="2.1" height="2.1" fill="#000"/>
<rect x="359.05" y="68.95" width="2.1" height="2.1" fill="#000"/>
<rect x="370.65" y="34.15" width="2.1" height="2.1" fill="#000"/>
<rect x="382.85" y="34.15" width="2.1" height="2.1" fill="#000"/>
<rect x="393.95" y="60.95" width="2.1" height="2.1" fill="#000"/>
<rect x="406.75" y="92.25" width="2.1" height="2.1" fill="#000"/>
<rect x="416.55" y="104.45" width="2.1" height="2.1" fill="#000"/>
<rect x="423.55" y="83.55" width="2.1" height="2.1" fill="#000"/>
<rect x="428.15" y="96.85" width="2.1" height="2.1" fill="#000"/>
<rect x="422.95" y="106.75" width="2.1" height="2.1" fill="#000"/>
<rect x="428.75" y="89.95" width="2.1" height="2.1" fill="#000"/>
<rect x="415.45" y="82.95" width="2.1" height="2.1" fill="#000"/>
<rect x="404.95" y="73.05" width="2.1" height="2.1" fill="#000"/>
<rect x="394.65" y="62.85" width="2.1" height="2.1" fill="#000"/>
<rect x="381.25" y="58.65" width="2.1" height="2.1" fill="#000"/>
<rect x="357.25" y="45.15" width="2.1" height="2.1" fill="#000"/>
<rect x="347.05" y="45.55" width="2.1" height="2.1" fill="#000"/>
<rect x="339.95" y="39.65" width="2.1" height="2.1" fill="#000"/>
<rect x="335.75" y="26.65" width="2.1" height="2.1" fill="#000"/>
<circle cx="342.70" cy="37.80" r="1.15" fill="#ff0000"/>
<circle cx="344.30" cy="71.30" r="1.15" fill="#ff0000"/>
<circle cx="348.90" cy="71.30" r="1.15" fill="#ff0000"/>
<circle cx="356.90" cy="48.50" r="1.15" fill="#ff0000"/>
<circle cx="366.80" cy="28.00" r="1.15" fill="#ff0000"/>
<circle cx="378.60" cy="39.00" r="1.15" fill="#ff0000"/>
<circle cx="390.30" cy="75.30" r="1.15" fill="#ff0000"/>
<circle cx="403.10" cy="91.00" r="1.15" fill="#ff0000"/>
<circle cx="414.70" cy="106.00" r="1.15" fill="#ff0000"/>
<circle cx="424.60" cy="92.10" r="1.15" fill="#ff0000"/>
<circle cx="436.80" cy="85.70" r="1.15" fill="#ff0000"/>
<circle cx="431.50" cy="92.10" r="1.15" fill="#ff0000"/>
<circle cx="422.80" cy="75.30" r="1.15" fill="#ff0000"/>
<circle cx="413.00" cy="80.50" r="1.15" fill="#ff0000"/>
<circle cx="401.40" cy="68.90" r="1.15" fill="#ff0000"/>
<circle cx="388.60" cy="59.00" r="1.15" fill="#ff0000"/>
<circle cx="375.90" cy="54.80" r="1.15" fill="#ff0000"/>
<circle cx="357.00" cy="48.80" r="1.15" fill="#ff0000"/>
<circle cx="347.70" cy="42.40" r="1.15" fill="#ff0000"/>
<circle cx="343.50" cy="26.80" r="1.15" fill="#ff0000"/>
<circle cx="350.30" cy="42.00" r="1.15" fill="#1f7ae6"/>
<circle cx="354.50" cy="30.20" r="1.15" fill="#1f7ae6"/>
<circle cx="363.80" cy="34.00" r="1.15" fill="#1f7ae6"/>
<circle cx="372.70" cy="62.20" r="1.15" fill="#1f7ae6"/>
<circle cx="385.40" cy="91.10" r="1.15" fill="#1f7ae6"/>
<circle cx="397.90" cy="103.70" r="1.15" fill="#1f7ae6"/>
<circle cx="410.10" cy="98.50" r="1.15" fill="#1f7ae6"/>
<circle cx="416.50" cy="84.60" r="1.15" fill="#1f7ae6"/>
<circle cx="422.30" cy="94.40" r="1.15" fill="#1f7ae6"/>
<circle cx="435.00" cy="91.00" r="1.15" fill="#1f7ae6"/>
<circle cx="443.10" cy="96.80" r="1.15" fill="#1f7ae6"/>
<circle cx="444.30" cy="89.80" r="1.15" fill="#1f7ae6"/>
<path d="M442.60,74.50 l1.3,2.2 h-2.6z" fill="#1f7ae6"/>
<path d="M437.90,73.90 l1.3,2.2 h-2.6z" fill="#1f7ae6"/>
<path d="M429.80,68.10 l1.3,2.2 h-2.6z" fill="#1f7ae6"/>
<path d="M420.00,58.80 l1.3,2.2 h-2.6z" fill="#1f7ae6"/>
<path d="M395.70,48.20 l1.3,2.2 h-2.6z" fill="#1f7ae6"/>
<path d="M361.60,41.00 l1.3,2.2 h-2.6z" fill="#1f7ae6"/>
<path d="M354.50,38.10 l1.3,2.2 h-2.6z" fill="#1f7ae6"/>
<path d="M349.80,36.80 l1.3,2.2 h-2.6z" fill="#1f7ae6"/>
<path d="M350.30,19.50 l1.3,2.2 h-2.6z" fill="#1f7ae6"/>
<path d="M47.40,296.00 C47.32,295.27 46.73,293.03 46.90,291.60 C47.07,290.17 47.80,288.62 48.40,287.40 C49.00,286.18 49.62,285.27 50.50,284.30 C51.38,283.33 52.63,282.83 53.70,281.60 C54.77,280.37 55.85,278.13 56.90,276.90 C57.95,275.67 58.77,275.00 60.00,274.20 C61.23,273.40 63.27,272.72 64.30,272.10 C65.33,271.48 65.15,271.20 66.20,270.50 C67.25,269.80 69.17,268.77 70.60,267.90 C72.03,267.03 73.30,266.28 74.80,265.30 C76.30,264.32 77.40,263.88 79.60,262.00 C81.80,260.12 85.60,256.73 88.00,254.00 C90.40,251.27 91.67,248.77 94.00,245.60 C96.33,242.43 99.50,238.43 102.00,235.00 C104.50,231.57 106.83,227.67 109.00,225.00 C111.17,222.33 113.17,220.90 115.00,219.00 C116.83,217.10 118.67,214.43 120.00,213.60 C121.33,212.77 121.67,214.00 123.00,214.00 C124.33,214.00 126.67,213.53 128.00,213.60 C129.33,213.67 130.00,213.50 131.00,214.40 C132.00,215.30 133.00,217.23 134.00,219.00 C135.00,220.77 136.00,222.33 137.00,225.00 C138.00,227.67 139.33,232.50 140.00,235.00 C140.67,237.50 140.60,238.00 141.00,240.00 C141.40,242.00 142.17,245.83 142.40,247.00" fill="none" stroke="#222" stroke-width="0.90" stroke-linejoin="round"/>
<path d="M142.40,247.00 C142.17,246.33 141.40,244.00 141.00,243.00 C140.60,242.00 140.33,241.50 140.00,241.00 C139.67,240.50 139.50,239.83 139.00,240.00 C138.50,240.17 137.67,241.17 137.00,242.00 C136.33,242.83 135.67,244.17 135.00,245.00 C134.33,245.83 133.83,246.00 133.00,247.00 C132.17,248.00 131.17,249.50 130.00,251.00 C128.83,252.50 127.33,254.57 126.00,256.00 C124.67,257.43 123.83,259.00 122.00,259.60 C120.17,260.20 117.33,259.60 115.00,259.60 C112.67,259.60 110.50,259.20 108.00,259.60 C105.50,260.00 102.50,261.10 100.00,262.00 C97.50,262.90 95.08,264.45 93.00,265.00 C90.92,265.55 88.95,264.82 87.50,265.30 C86.05,265.78 85.72,267.03 84.30,267.90 C82.88,268.77 80.72,269.65 79.00,270.50 C77.28,271.35 75.40,272.28 74.00,273.00 C72.60,273.72 72.05,274.15 70.60,274.80 C69.15,275.45 67.32,276.20 65.30,276.90 C63.28,277.60 60.17,278.30 58.50,279.00 C56.83,279.70 56.27,280.05 55.30,281.10 C54.33,282.15 53.50,283.72 52.70,285.30 C51.90,286.88 51.07,289.02 50.50,290.60 C49.93,292.18 49.50,294.10 49.30,294.80" fill="none" stroke="#222" stroke-width="0.90" stroke-linejoin="round" stroke-dasharray="2.2,1.6"/>
<path d="M53.70,285.80 C53.88,286.25 54.45,287.80 54.80,288.50 C55.15,289.20 55.28,289.22 55.80,290.00 C56.32,290.78 57.20,292.43 57.90,293.20 C58.60,293.97 59.20,294.77 60.00,294.60 C60.80,294.43 61.82,292.87 62.70,292.20 C63.58,291.53 64.52,291.92 65.30,290.60 C66.08,289.28 66.78,286.15 67.40,284.30 C68.02,282.45 68.12,281.18 69.00,279.50 C69.88,277.82 71.20,275.72 72.70,274.20 C74.20,272.68 76.42,271.88 78.00,270.40 C79.58,268.92 80.87,266.97 82.20,265.30 C83.53,263.63 84.03,262.55 86.00,260.40 C87.97,258.25 91.67,255.07 94.00,252.40 C96.33,249.73 97.67,247.13 100.00,244.40 C102.33,241.67 105.33,239.40 108.00,236.00 C110.67,232.60 113.33,227.17 116.00,224.00 C118.67,220.83 121.83,218.60 124.00,217.00 C126.17,215.40 127.50,214.57 129.00,214.40 C130.50,214.23 131.67,215.07 133.00,216.00 C134.33,216.93 135.83,218.67 137.00,220.00 C138.17,221.33 139.00,222.17 140.00,224.00 C141.00,225.83 142.00,228.50 143.00,231.00 C144.00,233.50 145.17,237.00 146.00,239.00 C146.83,241.00 147.67,242.33 148.00,243.00" fill="none" stroke="#ff3b3b" stroke-width="0.80" stroke-linejoin="round"/>
<path d="M148.00,243.00 C147.67,243.33 146.83,244.00 146.00,245.00 C145.17,246.00 144.17,247.57 143.00,249.00 C141.83,250.43 140.50,252.88 139.00,253.60 C137.50,254.32 135.50,253.40 134.00,253.30 C132.50,253.20 131.67,252.95 130.00,253.00 C128.33,253.05 126.50,253.60 124.00,253.60 C121.50,253.60 117.67,252.67 115.00,253.00 C112.33,253.33 110.50,254.43 108.00,255.60 C105.50,256.77 102.33,258.60 100.00,260.00 C97.67,261.40 96.33,262.67 94.00,264.00 C91.67,265.33 88.67,266.93 86.00,268.00 C83.33,269.07 80.30,269.98 78.00,270.40 C75.70,270.82 74.03,270.07 72.20,270.50 C70.37,270.93 68.77,272.02 67.00,273.00 C65.23,273.98 63.10,275.07 61.60,276.40 C60.10,277.73 58.97,279.60 58.00,281.00 C57.03,282.40 56.52,284.00 55.80,284.80 C55.08,285.60 54.05,285.63 53.70,285.80" fill="none" stroke="#ff3b3b" stroke-width="0.80" stroke-linejoin="round" stroke-dasharray="2.2,1.6"/>
<path d="M60.60,282.70 C60.60,283.22 60.43,284.83 60.60,285.80 C60.77,286.77 61.25,287.97 61.60,288.50 C61.95,289.03 62.17,288.65 62.70,289.00 C63.23,289.35 63.75,290.17 64.80,290.60 C65.85,291.03 67.50,290.98 69.00,291.60 C70.50,292.22 72.57,294.20 73.80,294.30 C75.03,294.40 75.62,293.35 76.40,292.20 C77.18,291.05 77.97,288.72 78.50,287.40 C79.03,286.08 78.98,285.78 79.60,284.30 C80.22,282.82 81.23,280.43 82.20,278.50 C83.17,276.57 84.35,274.38 85.40,272.70 C86.45,271.02 87.23,270.58 88.50,268.40 C89.77,266.22 91.25,262.33 93.00,259.60 C94.75,256.87 96.67,255.77 99.00,252.00 C101.33,248.23 104.50,241.00 107.00,237.00 C109.50,233.00 111.33,230.83 114.00,228.00 C116.67,225.17 120.00,221.93 123.00,220.00 C126.00,218.07 129.67,217.13 132.00,216.40 C134.33,215.67 135.50,215.67 137.00,215.60 C138.50,215.53 139.67,214.77 141.00,216.00 C142.33,217.23 144.00,220.83 145.00,223.00 C146.00,225.17 146.17,226.33 147.00,229.00 C147.83,231.67 149.00,236.67 150.00,239.00 C151.00,241.33 152.00,241.90 153.00,243.00 C154.00,244.10 155.50,245.17 156.00,245.60" fill="none" stroke="#3a93f2" stroke-width="1.00" stroke-linejoin="round"/>
<path d="M156.00,245.60 C155.93,245.67 156.10,245.60 155.60,246.00 C155.10,246.40 154.27,246.83 153.00,248.00 C151.73,249.17 149.33,252.00 148.00,253.00 C146.67,254.00 146.33,253.92 145.00,254.00 C143.67,254.08 141.67,253.67 140.00,253.50 C138.33,253.33 137.00,252.92 135.00,253.00 C133.00,253.08 130.33,253.77 128.00,254.00 C125.67,254.23 123.17,253.97 121.00,254.40 C118.83,254.83 117.33,255.40 115.00,256.60 C112.67,257.80 109.50,260.53 107.00,261.60 C104.50,262.67 102.50,262.10 100.00,263.00 C97.50,263.90 94.50,266.08 92.00,267.00 C89.50,267.92 87.17,267.92 85.00,268.50 C82.83,269.08 81.05,269.63 79.00,270.50 C76.95,271.37 74.53,272.72 72.70,273.70 C70.87,274.68 69.75,275.43 68.00,276.40 C66.25,277.37 63.43,278.45 62.20,279.50 C60.97,280.55 60.87,282.17 60.60,282.70" fill="none" stroke="#3a93f2" stroke-width="1.00" stroke-linejoin="round" stroke-dasharray="2.2,1.6"/>
<rect x="45.85" y="289.95" width="2.1" height="2.1" fill="#000"/>
<rect x="65.15" y="269.45" width="2.1" height="2.1" fill="#000"/>
<rect x="78.55" y="260.95" width="2.1" height="2.1" fill="#000"/>
<rect x="92.95" y="244.55" width="2.1" height="2.1" fill="#000"/>
<rect x="107.95" y="223.95" width="2.1" height="2.1" fill="#000"/>
<rect x="121.95" y="212.95" width="2.1" height="2.1" fill="#000"/>
<rect x="138.95" y="233.95" width="2.1" height="2.1" fill="#000"/>
<rect x="139.95" y="238.95" width="2.1" height="2.1" fill="#000"/>
<rect x="141.35" y="245.95" width="2.1" height="2.1" fill="#000"/>
<rect x="131.95" y="245.95" width="2.1" height="2.1" fill="#000"/>
<rect x="120.95" y="258.55" width="2.1" height="2.1" fill="#000"/>
<rect x="106.95" y="258.55" width="2.1" height="2.1" fill="#000"/>
<rect x="91.95" y="263.95" width="2.1" height="2.1" fill="#000"/>
<rect x="77.95" y="269.45" width="2.1" height="2.1" fill="#000"/>
<rect x="64.25" y="275.85" width="2.1" height="2.1" fill="#000"/>
<rect x="54.25" y="280.05" width="2.1" height="2.1" fill="#000"/>
<rect x="48.25" y="293.75" width="2.1" height="2.1" fill="#000"/>
<circle cx="53.70" cy="285.80" r="1.15" fill="#ff0000"/>
<circle cx="55.80" cy="290.00" r="1.15" fill="#ff0000"/>
<circle cx="62.70" cy="292.20" r="1.15" fill="#ff0000"/>
<circle cx="72.70" cy="274.20" r="1.15" fill="#ff0000"/>
<circle cx="86.00" cy="260.40" r="1.15" fill="#ff0000"/>
<circle cx="100.00" cy="244.40" r="1.15" fill="#ff0000"/>
<circle cx="116.00" cy="224.00" r="1.15" fill="#ff0000"/>
<circle cx="129.00" cy="214.40" r="1.15" fill="#ff0000"/>
<circle cx="140.00" cy="224.00" r="1.15" fill="#ff0000"/>
<circle cx="146.00" cy="239.00" r="1.15" fill="#ff0000"/>
<circle cx="148.00" cy="243.00" r="1.15" fill="#ff0000"/>
<circle cx="139.00" cy="253.60" r="1.15" fill="#ff0000"/>
<circle cx="115.00" cy="253.00" r="1.15" fill="#ff0000"/>
<circle cx="94.00" cy="264.00" r="1.15" fill="#ff0000"/>
<circle cx="72.20" cy="270.50" r="1.15" fill="#ff0000"/>
<circle cx="61.60" cy="276.40" r="1.15" fill="#ff0000"/>
<circle cx="60.60" cy="282.70" r="1.15" fill="#1f7ae6"/>
<circle cx="62.70" cy="289.00" r="1.15" fill="#1f7ae6"/>
<circle cx="69.00" cy="291.60" r="1.15" fill="#1f7ae6"/>
<circle cx="79.60" cy="284.30" r="1.15" fill="#1f7ae6"/>
<circle cx="93.00" cy="259.60" r="1.15" fill="#1f7ae6"/>
<circle cx="107.00" cy="237.00" r="1.15" fill="#1f7ae6"/>
<circle cx="123.00" cy="220.00" r="1.15" fill="#1f7ae6"/>
<circle cx="147.00" cy="229.00" r="1.15" fill="#1f7ae6"/>
<circle cx="156.00" cy="245.60" r="1.15" fill="#1f7ae6"/>
<path d="M153.00,246.60 l1.3,2.2 h-2.6z" fill="#1f7ae6"/>
<path d="M145.00,252.60 l1.3,2.2 h-2.6z" fill="#1f7ae6"/>
<path d="M135.00,251.60 l1.3,2.2 h-2.6z" fill="#1f7ae6"/>
<path d="M107.00,260.20 l1.3,2.2 h-2.6z" fill="#1f7ae6"/>
<path d="M92.00,265.60 l1.3,2.2 h-2.6z" fill="#1f7ae6"/>
<path d="M79.00,269.10 l1.3,2.2 h-2.6z" fill="#1f7ae6"/>
<path d="M68.00,275.00 l1.3,2.2 h-2.6z" fill="#1f7ae6"/>
<path d="M62.20,278.10 l1.3,2.2 h-2.6z" fill="#1f7ae6"/>
<path d="M336.40,222.80 C336.58,224.62 336.95,228.97 337.50,233.70 C338.05,238.43 338.62,245.20 339.70,251.20 C340.78,257.20 342.73,265.70 344.00,269.70 C345.27,273.70 345.47,273.82 347.30,275.20 C349.13,276.58 353.18,277.63 355.00,278.00 C356.82,278.37 356.75,278.60 358.20,277.40 C359.65,276.20 361.98,272.98 363.70,270.80 C365.42,268.62 366.50,268.48 368.50,264.30 C370.50,260.12 373.23,252.08 375.70,245.70 C378.17,239.32 380.92,231.10 383.30,226.00 C385.68,220.90 388.53,217.28 390.00,215.10 C391.47,212.92 390.85,212.90 392.10,212.90 C393.35,212.90 395.68,213.45 397.50,215.10 C399.32,216.75 401.35,219.70 403.00,222.80 C404.65,225.90 405.93,228.98 407.40,233.70 C408.87,238.42 410.52,246.38 411.80,251.10 C413.08,255.82 414.18,258.18 415.10,262.00 C416.02,265.82 416.40,271.45 417.30,274.00 C418.20,276.55 419.42,276.03 420.50,277.30 C421.58,278.57 422.88,279.05 423.80,281.60 C424.72,284.15 425.27,290.95 426.00,292.60 C426.73,294.25 427.65,293.33 428.20,291.50 C428.75,289.67 428.93,286.88 429.30,281.60 C429.67,276.32 430.22,263.43 430.40,259.80" fill="none" stroke="#222" stroke-width="0.90" stroke-linejoin="round"/>
<path d="M430.40,259.80 C430.22,261.98 429.57,268.53 429.30,272.90 C429.03,277.27 429.10,282.72 428.80,286.00 C428.50,289.28 428.15,291.87 427.50,292.60 C426.85,293.33 425.88,291.87 424.90,290.40 C423.92,288.93 423.23,285.27 421.60,283.80 C419.97,282.33 416.92,282.50 415.10,281.60 C413.28,280.70 412.35,279.28 410.70,278.40 C409.05,277.52 406.65,277.22 405.20,276.30 C403.75,275.38 403.27,272.55 402.00,272.90 C400.73,273.25 399.25,278.75 397.60,278.40 C395.95,278.05 393.93,274.62 392.10,270.80 C390.27,266.98 388.23,258.15 386.60,255.50 C384.97,252.85 384.30,255.27 382.30,254.90 C380.30,254.53 377.15,254.83 374.60,253.30 C372.05,251.77 369.37,247.15 367.00,245.70 C364.63,244.25 362.58,245.58 360.40,244.60 C358.22,243.62 355.90,241.43 353.90,239.80 C351.90,238.17 350.05,235.45 348.40,234.80 C346.75,234.15 345.40,236.70 344.00,235.90 C342.60,235.10 341.27,232.18 340.00,230.00 C338.73,227.82 337.00,224.00 336.40,222.80" fill="none" stroke="#222" stroke-width="0.90" stroke-linejoin="round" stroke-dasharray="2.2,1.6"/>
<path d="M342.90,225.00 C343.08,224.08 343.27,220.97 344.00,219.50 C344.73,218.03 346.38,215.65 347.30,216.20 C348.22,216.75 348.77,220.80 349.50,222.80 C350.23,224.80 350.78,225.30 351.70,228.20 C352.62,231.10 353.92,236.37 355.00,240.20 C356.08,244.03 357.12,247.92 358.20,251.20 C359.28,254.48 360.40,258.45 361.50,259.90 C362.60,261.35 363.53,260.45 364.80,259.90 C366.07,259.35 367.47,258.60 369.10,256.60 C370.73,254.60 372.58,251.72 374.60,247.90 C376.62,244.08 379.02,237.88 381.20,233.70 C383.38,229.52 386.07,225.75 387.70,222.80 C389.33,219.85 389.70,217.97 391.00,216.00 C392.30,214.03 394.00,211.50 395.50,211.00 C397.00,210.50 398.55,211.77 400.00,213.00 C401.45,214.23 402.70,215.90 404.20,218.40 C405.70,220.90 407.73,225.47 409.00,228.00 C410.27,230.53 410.32,228.67 411.80,233.60 C413.28,238.53 416.27,251.42 417.90,257.60 C419.53,263.78 420.43,266.33 421.60,270.70 C422.77,275.07 423.80,280.15 424.90,283.80 C426.00,287.45 426.93,290.78 428.20,292.60 C429.47,294.42 431.23,294.88 432.50,294.70 C433.77,294.52 435.07,294.40 435.80,291.50 C436.53,288.60 436.53,283.13 436.90,277.30 C437.27,271.47 437.82,259.97 438.00,256.50" fill="none" stroke="#ff3b3b" stroke-width="0.80" stroke-linejoin="round"/>
<path d="M438.00,256.50 C437.82,258.33 437.45,263.85 436.90,267.50 C436.35,271.15 435.78,275.32 434.70,278.40 C433.62,281.48 431.67,283.82 430.40,286.00 C429.13,288.18 428.38,291.50 427.10,291.50 C425.82,291.50 424.52,288.00 422.70,286.00 C420.88,284.00 418.20,281.50 416.20,279.50 C414.20,277.50 412.52,275.65 410.70,274.00 C408.88,272.35 407.30,269.78 405.30,269.60 C403.30,269.42 400.00,272.62 398.70,272.90 C397.40,273.18 398.60,272.55 397.50,271.30 C396.40,270.05 393.55,267.12 392.10,265.40 C390.65,263.68 390.27,262.47 388.80,261.00 C387.33,259.53 385.60,258.10 383.30,256.60 C381.00,255.10 377.55,253.35 375.00,252.00 C372.45,250.65 370.33,249.48 368.00,248.50 C365.67,247.52 362.83,246.27 361.00,246.10 C359.17,245.93 358.27,247.40 357.00,247.50 C355.73,247.60 354.52,247.37 353.40,246.70 C352.28,246.03 351.03,245.28 350.30,243.50 C349.57,241.72 349.72,237.92 349.00,236.00 C348.28,234.08 346.85,233.07 346.00,232.00 C345.15,230.93 344.45,230.52 343.90,229.60 C343.35,228.68 342.90,227.02 342.70,226.50" fill="none" stroke="#ff3b3b" stroke-width="0.80" stroke-linejoin="round" stroke-dasharray="2.2,1.6"/>
<path d="M349.50,234.80 C349.68,233.70 350.23,230.38 350.60,228.20 C350.97,226.02 351.15,223.52 351.70,221.70 C352.25,219.88 352.82,218.28 353.90,217.30 C354.98,216.32 356.75,215.98 358.20,215.80 C359.65,215.62 361.32,214.67 362.60,216.20 C363.88,217.73 364.92,222.63 365.90,225.00 C366.88,227.37 367.60,229.50 368.50,230.40 C369.40,231.30 369.92,230.95 371.30,230.40 C372.68,229.85 374.97,228.45 376.80,227.10 C378.63,225.75 380.48,224.85 382.30,222.30 C384.12,219.75 386.07,214.20 387.70,211.80 C389.33,209.40 390.63,208.62 392.10,207.90 C393.57,207.18 394.87,207.02 396.50,207.50 C398.13,207.98 400.08,208.98 401.90,210.80 C403.72,212.62 405.75,215.13 407.40,218.40 C409.05,221.67 410.15,225.30 411.80,230.40 C413.45,235.50 415.67,243.18 417.30,249.00 C418.93,254.82 420.40,260.58 421.60,265.30 C422.80,270.02 423.58,272.75 424.50,277.30 C425.42,281.85 426.12,289.70 427.10,292.60 C428.08,295.50 428.95,294.35 430.40,294.70 C431.85,295.05 434.17,294.33 435.80,294.70 C437.43,295.07 439.10,297.62 440.20,296.90 C441.30,296.18 441.85,294.40 442.40,290.40 C442.95,286.40 443.22,277.82 443.50,272.90 C443.78,267.98 444.00,262.90 444.10,260.90" fill="none" stroke="#3a93f2" stroke-width="1.00" stroke-linejoin="round"/>
<path d="M444.10,260.90 C444.00,262.90 444.15,269.45 443.50,272.90 C442.85,276.35 441.85,279.60 440.20,281.60 C438.55,283.60 435.60,283.80 433.60,284.90 C431.60,286.00 429.83,287.47 428.20,288.20 C426.57,288.93 425.43,290.03 423.80,289.30 C422.17,288.57 420.40,285.98 418.40,283.80 C416.40,281.62 414.35,278.57 411.80,276.20 C409.25,273.83 405.65,272.03 403.10,269.60 C400.55,267.17 398.70,263.77 396.50,261.60 C394.30,259.43 392.55,258.35 389.90,256.60 C387.25,254.85 383.15,252.20 380.60,251.10 C378.05,250.00 376.70,250.52 374.60,250.00 C372.50,249.48 370.10,249.58 368.00,248.00 C365.90,246.42 363.80,242.20 362.00,240.50 C360.20,238.80 359.05,238.45 357.20,237.80 C355.35,237.15 352.18,237.10 350.90,236.60 C349.62,236.10 349.73,235.10 349.50,234.80" fill="none" stroke="#3a93f2" stroke-width="1.00" stroke-linejoin="round" stroke-dasharray="2.2,1.6"/>
<rect x="335.35" y="221.75" width="2.1" height="2.1" fill="#000"/>
<rect x="336.45" y="232.65" width="2.1" height="2.1" fill="#000"/>
<rect x="342.95" y="268.65" width="2.1" height="2.1" fill="#000"/>
<rect x="353.95" y="276.95" width="2.1" height="2.1" fill="#000"/>
<rect x="367.45" y="263.25" width="2.1" height="2.1" fill="#000"/>
<rect x="382.25" y="224.95" width="2.1" height="2.1" fill="#000"/>
<rect x="396.45" y="214.05" width="2.1" height="2.1" fill="#000"/>
<rect x="410.75" y="250.05" width="2.1" height="2.1" fill="#000"/>
<rect x="419.45" y="276.25" width="2.1" height="2.1" fill="#000"/>
<rect x="427.15" y="290.45" width="2.1" height="2.1" fill="#000"/>
<rect x="429.35" y="258.75" width="2.1" height="2.1" fill="#000"/>
<rect x="428.25" y="271.85" width="2.1" height="2.1" fill="#000"/>
<rect x="420.55" y="282.75" width="2.1" height="2.1" fill="#000"/>
<rect x="409.65" y="277.35" width="2.1" height="2.1" fill="#000"/>
<rect x="396.55" y="277.35" width="2.1" height="2.1" fill="#000"/>
<rect x="381.25" y="253.85" width="2.1" height="2.1" fill="#000"/>
<rect x="365.95" y="244.65" width="2.1" height="2.1" fill="#000"/>
<rect x="352.85" y="238.75" width="2.1" height="2.1" fill="#000"/>
<rect x="342.95" y="234.85" width="2.1" height="2.1" fill="#000"/>
<circle cx="342.90" cy="225.00" r="1.15" fill="#ff0000"/>
<circle cx="344.00" cy="219.50" r="1.15" fill="#ff0000"/>
<circle cx="351.70" cy="228.20" r="1.15" fill="#ff0000"/>
<circle cx="361.50" cy="259.90" r="1.15" fill="#ff0000"/>
<circle cx="374.60" cy="247.90" r="1.15" fill="#ff0000"/>
<circle cx="391.00" cy="216.00" r="1.15" fill="#ff0000"/>
<circle cx="404.20" cy="218.40" r="1.15" fill="#ff0000"/>
<circle cx="417.90" cy="257.60" r="1.15" fill="#ff0000"/>
<circle cx="435.80" cy="291.50" r="1.15" fill="#ff0000"/>
<circle cx="438.00" cy="256.50" r="1.15" fill="#ff0000"/>
<circle cx="434.70" cy="278.40" r="1.15" fill="#ff0000"/>
<circle cx="416.20" cy="279.50" r="1.15" fill="#ff0000"/>
<circle cx="405.30" cy="269.60" r="1.15" fill="#ff0000"/>
<circle cx="397.50" cy="271.30" r="1.15" fill="#ff0000"/>
<circle cx="388.80" cy="261.00" r="1.15" fill="#ff0000"/>
<circle cx="361.00" cy="246.10" r="1.15" fill="#ff0000"/>
<circle cx="350.30" cy="243.50" r="1.15" fill="#ff0000"/>
<circle cx="343.90" cy="229.60" r="1.15" fill="#ff0000"/>
<circle cx="349.50" cy="234.80" r="1.15" fill="#1f7ae6"/>
<circle cx="351.70" cy="221.70" r="1.15" fill="#1f7ae6"/>
<circle cx="358.20" cy="215.80" r="1.15" fill="#1f7ae6"/>
<circle cx="382.30" cy="222.30" r="1.15" fill="#1f7ae6"/>
<circle cx="396.50" cy="207.50" r="1.15" fill="#1f7ae6"/>
<circle cx="411.80" cy="230.40" r="1.15" fill="#1f7ae6"/>
<circle cx="444.10" cy="260.90" r="1.15" fill="#1f7ae6"/>
<path d="M443.50,271.50 l1.3,2.2 h-2.6z" fill="#1f7ae6"/>
<path d="M440.20,280.20 l1.3,2.2 h-2.6z" fill="#1f7ae6"/>
<path d="M423.80,287.90 l1.3,2.2 h-2.6z" fill="#1f7ae6"/>
<path d="M411.80,274.80 l1.3,2.2 h-2.6z" fill="#1f7ae6"/>
<path d="M396.50,260.20 l1.3,2.2 h-2.6z" fill="#1f7ae6"/>
<path d="M380.60,249.70 l1.3,2.2 h-2.6z" fill="#1f7ae6"/>
<path d="M368.00,246.60 l1.3,2.2 h-2.6z" fill="#1f7ae6"/>
<path d="M357.20,236.40 l1.3,2.2 h-2.6z" fill="#1f7ae6"/>
<path d="M350.90,235.20 l1.3,2.2 h-2.6z" fill="#1f7ae6"/>
<path d="M40.00,465.60 C40.07,464.67 40.07,461.27 40.40,460.00 C40.73,458.73 40.90,459.60 42.00,458.00 C43.10,456.40 44.83,453.00 47.00,450.40 C49.17,447.80 52.00,445.20 55.00,442.40 C58.00,439.60 61.33,436.73 65.00,433.60 C68.67,430.47 73.83,426.20 77.00,423.60 C80.17,421.00 82.00,419.33 84.00,418.00 C86.00,416.67 87.33,415.87 89.00,415.60 C90.67,415.33 91.83,416.83 94.00,416.40 C96.17,415.97 99.67,414.23 102.00,413.00 C104.33,411.77 106.17,410.23 108.00,409.00 C109.83,407.77 111.33,406.60 113.00,405.60 C114.67,404.60 116.40,403.63 118.00,403.00 C119.60,402.37 121.52,401.30 122.60,401.80 C123.68,402.30 123.93,404.32 124.50,406.00 C125.07,407.68 125.12,410.28 126.00,411.90 C126.88,413.52 128.62,414.58 129.80,415.70 C130.98,416.82 132.33,417.20 133.10,418.60 C133.87,420.00 134.08,422.20 134.40,424.10 C134.72,426.00 134.85,427.88 135.00,430.00 C135.15,432.12 135.25,435.67 135.30,436.80" fill="none" stroke="#222" stroke-width="0.90" stroke-linejoin="round"/>
<path d="M135.00,437.00 C134.83,438.17 134.33,441.83 134.00,444.00 C133.67,446.17 133.83,448.40 133.00,450.00 C132.17,451.60 130.33,452.27 129.00,453.60 C127.67,454.93 126.33,456.27 125.00,458.00 C123.67,459.73 122.67,462.33 121.00,464.00 C119.33,465.67 116.83,466.92 115.00,468.00 C113.17,469.08 111.83,469.75 110.00,470.50 C108.17,471.25 105.83,471.92 104.00,472.50 C102.17,473.08 101.83,473.15 99.00,474.00 C96.17,474.85 91.17,476.77 87.00,477.60 C82.83,478.43 78.17,478.27 74.00,479.00 C69.83,479.73 65.33,481.27 62.00,482.00 C58.67,482.73 56.67,483.40 54.00,483.40 C51.33,483.40 47.83,483.07 46.00,482.00 C44.17,480.93 43.67,478.33 43.00,477.00 C42.33,475.67 42.42,475.33 42.00,474.00 C41.58,472.67 40.83,470.40 40.50,469.00 C40.17,467.60 40.08,466.17 40.00,465.60" fill="none" stroke="#222" stroke-width="0.90" stroke-linejoin="round" stroke-dasharray="2.2,1.6"/>
<path d="M47.00,476.00 C47.10,474.67 47.33,470.50 47.60,468.00 C47.87,465.50 48.20,463.00 48.60,461.00 C49.00,459.00 49.17,458.00 50.00,456.00 C50.83,454.00 51.60,451.60 53.60,449.00 C55.60,446.40 58.93,443.07 62.00,440.40 C65.07,437.73 68.40,435.97 72.00,433.00 C75.60,430.03 80.60,425.27 83.60,422.60 C86.60,419.93 87.93,418.10 90.00,417.00 C92.07,415.90 94.00,416.50 96.00,416.00 C98.00,415.50 99.92,414.87 102.00,414.00 C104.08,413.13 106.50,411.88 108.50,410.80 C110.50,409.72 112.15,408.38 114.00,407.50 C115.85,406.62 117.60,406.38 119.60,405.50 C121.60,404.62 124.30,402.27 126.00,402.20 C127.70,402.13 128.63,403.80 129.80,405.10 C130.97,406.40 131.88,408.17 133.00,410.00 C134.12,411.83 135.37,414.52 136.50,416.10 C137.63,417.68 139.02,418.02 139.80,419.50 C140.58,420.98 140.83,422.55 141.20,425.00 C141.57,427.45 141.87,432.67 142.00,434.20" fill="none" stroke="#ff3b3b" stroke-width="0.80" stroke-linejoin="round"/>
<path d="M142.00,434.00 C141.67,435.67 140.83,441.33 140.00,444.00 C139.17,446.67 138.17,448.17 137.00,450.00 C135.83,451.83 134.50,453.33 133.00,455.00 C131.50,456.67 129.83,458.33 128.00,460.00 C126.17,461.67 124.00,463.67 122.00,465.00 C120.00,466.33 118.00,467.17 116.00,468.00 C114.00,468.83 111.67,469.50 110.00,470.00 C108.33,470.50 107.67,470.33 106.00,471.00 C104.33,471.67 103.00,472.83 100.00,474.00 C97.00,475.17 92.00,476.83 88.00,478.00 C84.00,479.17 80.17,480.17 76.00,481.00 C71.83,481.83 66.83,482.50 63.00,483.00 C59.17,483.50 55.50,484.17 53.00,484.00 C50.50,483.83 49.00,483.33 48.00,482.00 C47.00,480.67 47.17,477.00 47.00,476.00" fill="none" stroke="#ff3b3b" stroke-width="0.80" stroke-linejoin="round" stroke-dasharray="2.2,1.6"/>
<path d="M53.60,483.40 C53.83,482.50 53.87,480.83 55.00,478.00 C56.13,475.17 58.23,471.23 60.40,466.40 C62.57,461.57 65.07,453.90 68.00,449.00 C70.93,444.10 74.33,440.67 78.00,437.00 C81.67,433.33 86.67,429.50 90.00,427.00 C93.33,424.50 95.83,423.50 98.00,422.00 C100.17,420.50 101.00,418.83 103.00,418.00 C105.00,417.17 108.00,417.33 110.00,417.00 C112.00,416.67 113.00,416.67 115.00,416.00 C117.00,415.33 120.17,414.33 122.00,413.00 C123.83,411.67 124.50,409.33 126.00,408.00 C127.50,406.67 129.23,405.90 131.00,405.00 C132.77,404.10 135.10,402.60 136.60,402.60 C138.10,402.60 139.10,403.77 140.00,405.00 C140.90,406.23 141.40,408.17 142.00,410.00 C142.60,411.83 142.77,414.67 143.60,416.00 C144.43,417.33 146.27,417.73 147.00,418.00 C147.73,418.27 147.77,416.77 148.00,417.60 C148.23,418.43 148.23,421.27 148.40,423.00 C148.57,424.73 148.90,427.17 149.00,428.00" fill="none" stroke="#3a93f2" stroke-width="1.00" stroke-linejoin="round"/>
<path d="M149.00,428.00 C148.77,429.17 148.10,433.00 147.60,435.00 C147.10,437.00 146.87,438.00 146.00,440.00 C145.13,442.00 144.07,444.83 142.40,447.00 C140.73,449.17 138.07,451.33 136.00,453.00 C133.93,454.67 132.00,455.50 130.00,457.00 C128.00,458.50 126.00,460.67 124.00,462.00 C122.00,463.33 119.83,464.00 118.00,465.00 C116.17,466.00 115.33,467.23 113.00,468.00 C110.67,468.77 106.33,469.10 104.00,469.60 C101.67,470.10 101.67,470.27 99.00,471.00 C96.33,471.73 91.77,472.83 88.00,474.00 C84.23,475.17 79.73,477.00 76.40,478.00 C73.07,479.00 70.80,479.33 68.00,480.00 C65.20,480.67 62.00,481.43 59.60,482.00 C57.20,482.57 54.60,483.17 53.60,483.40" fill="none" stroke="#3a93f2" stroke-width="1.00" stroke-linejoin="round" stroke-dasharray="2.2,1.6"/>
<rect x="38.95" y="464.55" width="2.1" height="2.1" fill="#000"/>
<rect x="40.95" y="456.95" width="2.1" height="2.1" fill="#000"/>
<rect x="45.95" y="449.35" width="2.1" height="2.1" fill="#000"/>
<rect x="53.95" y="441.35" width="2.1" height="2.1" fill="#000"/>
<rect x="63.95" y="432.55" width="2.1" height="2.1" fill="#000"/>
<rect x="75.95" y="422.55" width="2.1" height="2.1" fill="#000"/>
<rect x="87.95" y="414.55" width="2.1" height="2.1" fill="#000"/>
<rect x="100.95" y="411.95" width="2.1" height="2.1" fill="#000"/>
<rect x="111.95" y="404.55" width="2.1" height="2.1" fill="#000"/>
<rect x="121.55" y="400.75" width="2.1" height="2.1" fill="#000"/>
<rect x="128.75" y="414.65" width="2.1" height="2.1" fill="#000"/>
<rect x="133.35" y="423.05" width="2.1" height="2.1" fill="#000"/>
<rect x="134.25" y="435.75" width="2.1" height="2.1" fill="#000"/>
<rect x="131.95" y="448.95" width="2.1" height="2.1" fill="#000"/>
<rect x="127.95" y="452.55" width="2.1" height="2.1" fill="#000"/>
<rect x="119.95" y="462.95" width="2.1" height="2.1" fill="#000"/>
<rect x="97.95" y="472.95" width="2.1" height="2.1" fill="#000"/>
<rect x="85.95" y="476.55" width="2.1" height="2.1" fill="#000"/>
<rect x="72.95" y="477.95" width="2.1" height="2.1" fill="#000"/>
<rect x="60.95" y="480.95" width="2.1" height="2.1" fill="#000"/>
<rect x="52.95" y="482.35" width="2.1" height="2.1" fill="#000"/>
<rect x="44.95" y="480.95" width="2.1" height="2.1" fill="#000"/>
<rect x="40.95" y="472.95" width="2.1" height="2.1" fill="#000"/>
<circle cx="47.00" cy="476.00" r="1.15" fill="#ff0000"/>
<circle cx="48.60" cy="461.00" r="1.15" fill="#ff0000"/>
<circle cx="53.60" cy="449.00" r="1.15" fill="#ff0000"/>
<circle cx="62.00" cy="440.40" r="1.15" fill="#ff0000"/>
<circle cx="72.00" cy="433.00" r="1.15" fill="#ff0000"/>
<circle cx="83.60" cy="422.60" r="1.15" fill="#ff0000"/>
<circle cx="108.50" cy="410.80" r="1.15" fill="#ff0000"/>
<circle cx="119.60" cy="405.50" r="1.15" fill="#ff0000"/>
<circle cx="129.80" cy="405.10" r="1.15" fill="#ff0000"/>
<circle cx="136.50" cy="416.10" r="1.15" fill="#ff0000"/>
<circle cx="141.20" cy="425.00" r="1.15" fill="#ff0000"/>
<circle cx="142.00" cy="434.20" r="1.15" fill="#ff0000"/>
<circle cx="140.00" cy="444.00" r="1.15" fill="#ff0000"/>
<circle cx="128.00" cy="460.00" r="1.15" fill="#ff0000"/>
<circle cx="106.00" cy="471.00" r="1.15" fill="#ff0000"/>
<circle cx="88.00" cy="478.00" r="1.15" fill="#ff0000"/>
<circle cx="76.00" cy="481.00" r="1.15" fill="#ff0000"/>
<circle cx="63.00" cy="483.00" r="1.15" fill="#ff0000"/>
<circle cx="53.00" cy="484.00" r="1.15" fill="#ff0000"/>
<circle cx="48.00" cy="482.00" r="1.15" fill="#ff0000"/>
<circle cx="55.00" cy="478.00" r="1.15" fill="#1f7ae6"/>
<circle cx="60.40" cy="466.40" r="1.15" fill="#1f7ae6"/>
<circle cx="68.00" cy="449.00" r="1.15" fill="#1f7ae6"/>
<circle cx="78.00" cy="437.00" r="1.15" fill="#1f7ae6"/>
<circle cx="90.00" cy="427.00" r="1.15" fill="#1f7ae6"/>
<circle cx="103.00" cy="418.00" r="1.15" fill="#1f7ae6"/>
<circle cx="115.00" cy="416.00" r="1.15" fill="#1f7ae6"/>
<circle cx="126.40" cy="409.80" r="1.15" fill="#1f7ae6"/>
<circle cx="136.60" cy="402.60" r="1.15" fill="#1f7ae6"/>
<circle cx="143.60" cy="416.00" r="1.15" fill="#1f7ae6"/>
<circle cx="148.00" cy="417.60" r="1.15" fill="#1f7ae6"/>
<circle cx="149.00" cy="428.00" r="1.15" fill="#1f7ae6"/>
<path d="M142.40,445.60 l1.3,2.2 h-2.6z" fill="#1f7ae6"/>
<path d="M136.00,451.60 l1.3,2.2 h-2.6z" fill="#1f7ae6"/>
<path d="M124.00,460.60 l1.3,2.2 h-2.6z" fill="#1f7ae6"/>
<path d="M113.00,466.60 l1.3,2.2 h-2.6z" fill="#1f7ae6"/>
<path d="M88.00,472.60 l1.3,2.2 h-2.6z" fill="#1f7ae6"/>
<path d="M76.40,476.60 l1.3,2.2 h-2.6z" fill="#1f7ae6"/>
<path d="M59.60,480.60 l1.3,2.2 h-2.6z" fill="#1f7ae6"/>
<path d="M328.70,420.80 C329.25,420.43 330.73,419.40 332.00,418.60 C333.27,417.80 334.67,417.17 336.30,416.00 C337.93,414.83 339.80,412.80 341.80,411.60 C343.80,410.40 346.48,409.17 348.30,408.80 C350.12,408.43 350.88,409.22 352.70,409.40 C354.52,409.58 357.38,409.63 359.20,409.90 C361.02,410.17 361.78,411.37 363.60,411.00 C365.42,410.63 367.73,409.05 370.10,407.70 C372.47,406.35 375.25,404.07 377.80,402.90 C380.35,401.73 383.33,401.43 385.40,400.70 C387.47,399.97 388.35,399.15 390.20,398.50 C392.05,397.85 394.35,397.08 396.50,396.80 C398.65,396.52 400.73,396.07 403.10,396.80 C405.47,397.53 408.88,400.65 410.70,401.20 C412.52,401.75 413.08,400.10 414.00,400.10 C414.92,400.10 415.65,399.57 416.20,401.20 C416.75,402.83 416.93,405.72 417.30,409.90 C417.67,414.08 418.03,420.85 418.40,426.30 C418.77,431.75 419.15,436.97 419.50,442.60 C419.85,448.23 420.03,455.53 420.50,460.10 C420.97,464.67 421.85,469.63 422.30,470.00 C422.75,470.37 422.95,465.03 423.20,462.30 C423.45,459.57 423.70,455.05 423.80,453.60" fill="none" stroke="#222" stroke-width="0.90" stroke-linejoin="round"/>
<path d="M423.80,453.60 C423.70,452.50 423.45,449.18 423.20,447.00 C422.95,444.82 423.10,441.05 422.30,440.50 C421.50,439.95 419.60,442.62 418.40,443.70 C417.20,444.78 416.02,446.82 415.10,447.00 C414.18,447.18 413.63,446.43 412.90,444.80 C412.17,443.17 411.43,439.20 410.70,437.20 C409.97,435.20 409.40,435.17 408.50,432.80 C407.60,430.43 406.75,425.37 405.30,423.00 C403.85,420.63 401.67,419.77 399.80,418.60 C397.93,417.43 396.13,416.92 394.10,416.00 C392.07,415.08 390.13,414.12 387.60,413.10 C385.07,412.08 381.45,410.73 378.90,409.90 C376.35,409.07 374.30,408.47 372.30,408.10 C370.30,407.73 368.90,407.22 366.90,407.70 C364.90,408.18 362.30,410.57 360.30,411.00 C358.30,411.43 356.90,410.85 354.90,410.30 C352.90,409.75 350.48,408.93 348.30,407.70 C346.12,406.47 343.43,403.98 341.80,402.90 C340.17,401.82 339.67,402.15 338.50,401.20 C337.33,400.25 335.88,397.03 334.80,397.20 C333.72,397.37 332.72,400.08 332.00,402.20 C331.28,404.32 330.87,407.72 330.50,409.90 C330.13,412.08 330.10,413.48 329.80,415.30 C329.50,417.12 328.88,419.88 328.70,420.80" fill="none" stroke="#222" stroke-width="0.90" stroke-linejoin="round" stroke-dasharray="2.2,1.6"/>
<path d="M336.30,402.20 C336.48,403.12 336.48,405.62 337.40,407.70 C338.32,409.78 340.17,414.15 341.80,414.70 C343.43,415.25 345.20,411.98 347.20,411.00 C349.20,410.02 351.62,409.35 353.80,408.80 C355.98,408.25 358.30,407.88 360.30,407.70 C362.30,407.52 364.17,407.77 365.80,407.70 C367.43,407.63 368.10,407.85 370.10,407.30 C372.10,406.75 375.43,405.50 377.80,404.40 C380.17,403.30 382.30,401.60 384.30,400.70 C386.30,399.80 387.80,399.53 389.80,399.00 C391.80,398.47 394.82,397.87 396.30,397.50 C397.78,397.13 397.02,396.98 398.70,396.80 C400.38,396.62 403.85,396.40 406.40,396.40 C408.95,396.40 411.65,396.00 414.00,396.80 C416.35,397.60 419.05,398.65 420.50,401.20 C421.95,403.75 422.03,408.10 422.70,412.10 C423.37,416.10 424.02,421.38 424.50,425.20 C424.98,429.02 425.23,431.00 425.60,435.00 C425.97,439.00 426.28,444.03 426.70,449.20 C427.12,454.37 427.77,461.87 428.10,466.00 C428.43,470.13 428.45,474.17 428.70,474.00 C428.95,473.83 429.33,467.92 429.60,465.00 C429.87,462.08 430.18,457.92 430.30,456.50" fill="none" stroke="#ff3b3b" stroke-width="0.80" stroke-linejoin="round"/>
<path d="M430.30,456.50 C430.17,455.52 430.05,452.68 429.50,450.60 C428.95,448.52 427.83,446.05 427.00,444.00 C426.17,441.95 425.50,438.63 424.50,438.30 C423.50,437.97 422.22,441.05 421.00,442.00 C419.78,442.95 418.37,444.62 417.20,444.00 C416.03,443.38 415.08,440.72 414.00,438.30 C412.92,435.88 411.78,432.23 410.70,429.50 C409.62,426.77 409.13,423.72 407.50,421.90 C405.87,420.08 403.13,419.58 400.90,418.60 C398.67,417.62 396.68,417.02 394.10,416.00 C391.52,414.98 388.12,413.52 385.40,412.50 C382.68,411.48 380.35,410.77 377.80,409.90 C375.25,409.03 373.38,407.48 370.10,407.30 C366.82,407.12 361.18,408.92 358.10,408.80 C355.02,408.68 353.58,407.15 351.60,406.60 C349.62,406.05 348.20,406.05 346.20,405.50 C344.20,404.95 341.25,403.85 339.60,403.30 C337.95,402.75 336.85,402.38 336.30,402.20" fill="none" stroke="#ff3b3b" stroke-width="0.80" stroke-linejoin="round" stroke-dasharray="2.2,1.6"/>
<path d="M342.90,405.50 C343.27,405.13 344.02,404.47 345.10,403.30 C346.18,402.13 348.13,398.68 349.40,398.50 C350.67,398.32 351.43,401.03 352.70,402.20 C353.97,403.37 355.18,404.58 357.00,405.50 C358.82,406.42 361.42,407.27 363.60,407.70 C365.78,408.13 367.55,407.73 370.10,408.10 C372.65,408.47 376.35,409.68 378.90,409.90 C381.45,410.12 383.55,409.97 385.40,409.40 C387.25,408.83 388.17,407.60 390.00,406.50 C391.83,405.40 394.03,404.05 396.40,402.80 C398.77,401.55 401.63,400.00 404.20,399.00 C406.77,398.00 409.88,397.23 411.80,396.80 C413.72,396.37 413.70,395.85 415.70,396.40 C417.70,396.95 421.53,398.93 423.80,400.10 C426.07,401.27 427.95,402.13 429.30,403.40 C430.65,404.67 431.18,404.43 431.90,407.70 C432.62,410.97 433.13,417.53 433.60,423.00 C434.07,428.47 434.33,434.68 434.70,440.50 C435.07,446.32 435.50,453.37 435.80,457.90 C436.10,462.43 436.38,464.97 436.50,467.70 C436.62,470.43 436.50,473.20 436.50,474.30" fill="none" stroke="#3a93f2" stroke-width="1.00" stroke-linejoin="round"/>
<path d="M436.50,474.30 C436.57,473.75 437.02,473.00 436.90,471.00 C436.78,469.00 436.35,464.85 435.80,462.30 C435.25,459.75 434.50,457.33 433.60,455.70 C432.70,454.07 432.03,453.40 430.40,452.50 C428.77,451.60 425.80,451.58 423.80,450.30 C421.80,449.02 420.03,446.43 418.40,444.80 C416.77,443.17 415.10,441.95 414.00,440.50 C412.90,439.05 412.72,437.93 411.80,436.10 C410.88,434.27 409.77,431.75 408.50,429.50 C407.23,427.25 405.65,424.05 404.20,422.60 C402.75,421.15 401.12,421.10 399.80,420.80 C398.48,420.50 397.97,421.35 396.30,420.80 C394.63,420.25 391.62,418.42 389.80,417.50 C387.98,416.58 387.58,416.38 385.40,415.30 C383.22,414.22 378.88,411.90 376.70,411.00 C374.52,410.10 374.30,410.45 372.30,409.90 C370.30,409.35 367.32,408.50 364.70,407.70 C362.08,406.90 359.33,405.17 356.60,405.10 C353.87,405.03 350.58,407.23 348.30,407.30 C346.02,407.37 343.80,405.80 342.90,405.50" fill="none" stroke="#3a93f2" stroke-width="1.00" stroke-linejoin="round" stroke-dasharray="2.2,1.6"/>
<rect x="327.65" y="419.75" width="2.1" height="2.1" fill="#000"/>
<rect x="335.25" y="414.95" width="2.1" height="2.1" fill="#000"/>
<rect x="340.75" y="410.55" width="2.1" height="2.1" fill="#000"/>
<rect x="351.65" y="408.35" width="2.1" height="2.1" fill="#000"/>
<rect x="362.55" y="409.95" width="2.1" height="2.1" fill="#000"/>
<rect x="376.75" y="401.85" width="2.1" height="2.1" fill="#000"/>
<rect x="389.15" y="397.45" width="2.1" height="2.1" fill="#000"/>
<rect x="409.65" y="400.15" width="2.1" height="2.1" fill="#000"/>
<rect x="417.35" y="425.25" width="2.1" height="2.1" fill="#000"/>
<rect x="421.25" y="468.95" width="2.1" height="2.1" fill="#000"/>
<rect x="422.75" y="452.55" width="2.1" height="2.1" fill="#000"/>
<rect x="421.25" y="439.45" width="2.1" height="2.1" fill="#000"/>
<rect x="409.65" y="436.15" width="2.1" height="2.1" fill="#000"/>
<rect x="398.75" y="417.55" width="2.1" height="2.1" fill="#000"/>
<rect x="393.05" y="414.95" width="2.1" height="2.1" fill="#000"/>
<rect x="386.55" y="412.05" width="2.1" height="2.1" fill="#000"/>
<rect x="353.85" y="409.25" width="2.1" height="2.1" fill="#000"/>
<rect x="340.75" y="401.85" width="2.1" height="2.1" fill="#000"/>
<rect x="333.75" y="396.15" width="2.1" height="2.1" fill="#000"/>
<rect x="329.45" y="408.85" width="2.1" height="2.1" fill="#000"/>
<circle cx="336.30" cy="402.20" r="1.15" fill="#ff0000"/>
<circle cx="341.80" cy="414.70" r="1.15" fill="#ff0000"/>
<circle cx="360.30" cy="407.70" r="1.15" fill="#ff0000"/>
<circle cx="370.10" cy="407.30" r="1.15" fill="#ff0000"/>
<circle cx="396.30" cy="397.50" r="1.15" fill="#ff0000"/>
<circle cx="418.00" cy="401.50" r="1.15" fill="#ff0000"/>
<circle cx="425.40" cy="434.20" r="1.15" fill="#ff0000"/>
<circle cx="428.70" cy="474.00" r="1.15" fill="#ff0000"/>
<circle cx="430.30" cy="456.50" r="1.15" fill="#ff0000"/>
<circle cx="429.50" cy="450.60" r="1.15" fill="#ff0000"/>
<circle cx="424.50" cy="438.30" r="1.15" fill="#ff0000"/>
<circle cx="417.20" cy="444.00" r="1.15" fill="#ff0000"/>
<circle cx="407.50" cy="421.90" r="1.15" fill="#ff0000"/>
<circle cx="394.10" cy="416.00" r="1.15" fill="#ff0000"/>
<circle cx="385.40" cy="412.50" r="1.15" fill="#ff0000"/>
<circle cx="358.10" cy="408.80" r="1.15" fill="#ff0000"/>
<circle cx="351.60" cy="406.60" r="1.15" fill="#ff0000"/>
<circle cx="339.60" cy="403.30" r="1.15" fill="#ff0000"/>
<circle cx="342.90" cy="405.50" r="1.15" fill="#1f7ae6"/>
<circle cx="349.40" cy="398.50" r="1.15" fill="#1f7ae6"/>
<circle cx="357.00" cy="405.50" r="1.15" fill="#1f7ae6"/>
<circle cx="385.40" cy="409.40" r="1.15" fill="#1f7ae6"/>
<circle cx="396.40" cy="402.80" r="1.15" fill="#1f7ae6"/>
<circle cx="415.70" cy="396.40" r="1.15" fill="#1f7ae6"/>
<circle cx="423.80" cy="400.10" r="1.15" fill="#1f7ae6"/>
<circle cx="431.90" cy="407.70" r="1.15" fill="#1f7ae6"/>
<circle cx="436.50" cy="467.70" r="1.15" fill="#1f7ae6"/>
<circle cx="436.50" cy="474.30" r="1.15" fill="#1f7ae6"/>
<path d="M436.90,469.60 l1.3,2.2 h-2.6z" fill="#1f7ae6"/>
<path d="M435.80,460.90 l1.3,2.2 h-2.6z" fill="#1f7ae6"/>
<path d="M433.60,454.30 l1.3,2.2 h-2.6z" fill="#1f7ae6"/>
<path d="M423.80,448.90 l1.3,2.2 h-2.6z" fill="#1f7ae6"/>
<path d="M414.00,439.10 l1.3,2.2 h-2.6z" fill="#1f7ae6"/>
<path d="M404.20,421.20 l1.3,2.2 h-2.6z" fill="#1f7ae6"/>
<path d="M389.80,416.10 l1.3,2.2 h-2.6z" fill="#1f7ae6"/>
<path d="M376.70,409.60 l1.3,2.2 h-2.6z" fill="#1f7ae6"/>
<path d="M364.70,406.30 l1.3,2.2 h-2.6z" fill="#1f7ae6"/>
<path d="M356.60,403.70 l1.3,2.2 h-2.6z" fill="#1f7ae6"/>
<g transform="translate(16.20,71.70) rotate(-90)"><text x="0" y="0" font-size="13.2" textLength="6.90" lengthAdjust="spacingAndGlyphs" fill="#2a2a2a" stroke="#2a2a2a" stroke-width="0.3">C</text><text x="6.40" y="2.0" font-size="6" fill="#444" stroke="#444" stroke-width="0.2">L</text></g>
<g transform="translate(16.20,257.00) rotate(-90)"><text x="0" y="0" font-size="13.2" textLength="6.90" lengthAdjust="spacingAndGlyphs" fill="#2a2a2a" stroke="#2a2a2a" stroke-width="0.3">C</text><text x="6.40" y="2.0" font-size="6" fill="#444" stroke="#444" stroke-width="0.2">L</text></g>
<g transform="translate(12.40,443.00) rotate(-90)"><text x="0" y="0" font-size="12.6" textLength="6.20" lengthAdjust="spacingAndGlyphs" fill="#2a2a2a" stroke="#2a2a2a" stroke-width="0.3">C</text><text x="5.70" y="2.0" font-size="6" fill="#444" stroke="#444" stroke-width="0.2">L</text></g>
<g transform="translate(297.60,70.90) rotate(-90)"><text x="0" y="0" font-size="11.6" textLength="6.20" lengthAdjust="spacingAndGlyphs" fill="#2a2a2a" stroke="#2a2a2a" stroke-width="0.3">C</text><text x="5.60" y="1.6" font-size="5.6" fill="#666" stroke="#666" stroke-width="0.2" textLength="3.6" lengthAdjust="spacingAndGlyphs">m</text></g>
<g transform="translate(297.60,256.90) rotate(-90)"><text x="0" y="0" font-size="11.6" textLength="6.20" lengthAdjust="spacingAndGlyphs" fill="#2a2a2a" stroke="#2a2a2a" stroke-width="0.3">C</text><text x="5.60" y="1.6" font-size="5.6" fill="#666" stroke="#666" stroke-width="0.2" textLength="3.6" lengthAdjust="spacingAndGlyphs">m</text></g>
<g transform="translate(297.60,442.50) rotate(-90)"><text x="0" y="0" font-size="11.6" textLength="6.20" lengthAdjust="spacingAndGlyphs" fill="#2a2a2a" stroke="#2a2a2a" stroke-width="0.3">C</text><text x="5.60" y="1.6" font-size="5.6" fill="#666" stroke="#666" stroke-width="0.2" textLength="3.6" lengthAdjust="spacingAndGlyphs">m</text></g>
<g class="ax" transform="translate(0.00,146.30)">
<text x="84.0" y="0.8" font-size="10" style="font-family:'DejaVu Serif',serif" stroke="#333" stroke-width="0.1">α</text>
<text x="90.2" y="1.0" font-size="10.5" textLength="5" lengthAdjust="spacingAndGlyphs" stroke="#333" stroke-width="0.2">/</text>
<text x="97.1" y="0" font-size="9.6" textLength="4.3" lengthAdjust="spacingAndGlyphs" stroke="#333" stroke-width="0.2">(</text>
<text x="103.3" y="-3.0" font-size="5.2" stroke="#333" stroke-width="0.3">°</text>
<text x="113.2" y="0" font-size="9.6" textLength="4.3" lengthAdjust="spacingAndGlyphs" stroke="#333" stroke-width="0.2">)</text>
</g>
<g class="ax" transform="translate(289.00,146.30)">
<text x="84.0" y="0.8" font-size="10" style="font-family:'DejaVu Serif',serif" stroke="#333" stroke-width="0.1">α</text>
<text x="90.2" y="1.0" font-size="10.5" textLength="5" lengthAdjust="spacingAndGlyphs" stroke="#333" stroke-width="0.2">/</text>
<text x="97.1" y="0" font-size="9.6" textLength="4.3" lengthAdjust="spacingAndGlyphs" stroke="#333" stroke-width="0.2">(</text>
<text x="103.3" y="-3.0" font-size="5.2" stroke="#333" stroke-width="0.3">°</text>
<text x="113.2" y="0" font-size="9.6" textLength="4.3" lengthAdjust="spacingAndGlyphs" stroke="#333" stroke-width="0.2">)</text>
</g>
<g class="ax" transform="translate(0.00,331.50)">
<text x="84.0" y="0.8" font-size="10" style="font-family:'DejaVu Serif',serif" stroke="#333" stroke-width="0.1">α</text>
<text x="90.2" y="1.0" font-size="10.5" textLength="5" lengthAdjust="spacingAndGlyphs" stroke="#333" stroke-width="0.2">/</text>
<text x="97.1" y="0" font-size="9.6" textLength="4.3" lengthAdjust="spacingAndGlyphs" stroke="#333" stroke-width="0.2">(</text>
<text x="103.3" y="-3.0" font-size="5.2" stroke="#333" stroke-width="0.3">°</text>
<text x="113.2" y="0" font-size="9.6" textLength="4.3" lengthAdjust="spacingAndGlyphs" stroke="#333" stroke-width="0.2">)</text>
</g>
<g class="ax" transform="translate(289.00,331.50)">
<text x="84.0" y="0.8" font-size="10" style="font-family:'DejaVu Serif',serif" stroke="#333" stroke-width="0.1">α</text>
<text x="90.2" y="1.0" font-size="10.5" textLength="5" lengthAdjust="spacingAndGlyphs" stroke="#333" stroke-width="0.2">/</text>
<text x="97.1" y="0" font-size="9.6" textLength="4.3" lengthAdjust="spacingAndGlyphs" stroke="#333" stroke-width="0.2">(</text>
<text x="103.3" y="-3.0" font-size="5.2" stroke="#333" stroke-width="0.3">°</text>
<text x="113.2" y="0" font-size="9.6" textLength="4.3" lengthAdjust="spacingAndGlyphs" stroke="#333" stroke-width="0.2">)</text>
</g>
<g class="ax" transform="translate(0.00,517.40)">
<text x="84.0" y="0.8" font-size="10" style="font-family:'DejaVu Serif',serif" stroke="#333" stroke-width="0.1">α</text>
<text x="90.2" y="1.0" font-size="10.5" textLength="5" lengthAdjust="spacingAndGlyphs" stroke="#333" stroke-width="0.2">/</text>
<text x="97.1" y="0" font-size="9.6" textLength="4.3" lengthAdjust="spacingAndGlyphs" stroke="#333" stroke-width="0.2">(</text>
<text x="103.3" y="-3.0" font-size="5.2" stroke="#333" stroke-width="0.3">°</text>
<text x="113.2" y="0" font-size="9.6" textLength="4.3" lengthAdjust="spacingAndGlyphs" stroke="#333" stroke-width="0.2">)</text>
</g>
<g class="ax" transform="translate(289.00,517.40)">
<text x="84.0" y="0.8" font-size="10" style="font-family:'DejaVu Serif',serif" stroke="#333" stroke-width="0.1">α</text>
<text x="90.2" y="1.0" font-size="10.5" textLength="5" lengthAdjust="spacingAndGlyphs" stroke="#333" stroke-width="0.2">/</text>
<text x="97.1" y="0" font-size="9.6" textLength="4.3" lengthAdjust="spacingAndGlyphs" stroke="#333" stroke-width="0.2">(</text>
<text x="103.3" y="-3.0" font-size="5.2" stroke="#333" stroke-width="0.3">°</text>
<text x="113.2" y="0" font-size="9.6" textLength="4.3" lengthAdjust="spacingAndGlyphs" stroke="#333" stroke-width="0.2">)</text>
</g>
<text x="97.10" y="169.40" font-size="15" text-anchor="middle" class="pl">(<tspan font-weight="bold">a</tspan>)</text>
<text x="385.60" y="169.40" font-size="15" text-anchor="middle" class="pl">(<tspan font-weight="bold">b</tspan>)</text>
<text x="97.10" y="354.60" font-size="15" text-anchor="middle" class="pl">(<tspan font-weight="bold">c</tspan>)</text>
<text x="385.60" y="354.60" font-size="15" text-anchor="middle" class="pl">(<tspan font-weight="bold">d</tspan>)</text>
<text x="97.10" y="540.50" font-size="15" text-anchor="middle" class="pl">(<tspan font-weight="bold">e</tspan>)</text>
<text x="385.60" y="540.50" font-size="15" text-anchor="middle" class="pl">(<tspan font-weight="bold">f</tspan>)</text>
<text x="60.80" y="19.20" class="ttl" textLength="52.50" lengthAdjust="spacingAndGlyphs">Reverse flow、k=0.1</text>
<text x="346.00" y="15.70" class="ttl" textLength="53.30" lengthAdjust="spacingAndGlyphs">Reverse flow、k=0.1</text>
<text x="57.00" y="205.60" class="ttl" textLength="57.00" lengthAdjust="spacingAndGlyphs">Reverse flow、k=0.12</text>
<text x="344.00" y="198.60" class="ttl" textLength="55.70" lengthAdjust="spacingAndGlyphs">Reverse flow、k=0.12</text>
<text x="58.00" y="385.80" class="ttl" textLength="55.00" lengthAdjust="spacingAndGlyphs">Forward flow、k=0.1</text>
<text x="347.90" y="386.20" class="ttl" textLength="55.60" lengthAdjust="spacingAndGlyphs">Forward flow、k=0.1</text>
<g transform="translate(102.30,104.50) scale(1.000,1)" class="lg"><text x="0" y="1.3" font-size="5.6" stroke="#5a5a5a" stroke-width="0.15">α</text><text x="3.7" y="2.9" font-size="4.6" stroke="#5a5a5a" stroke-width="0.1">s</text><text x="6.5" y="2.0" font-size="5.4">(</text><text x="8.9" y="1.1" font-size="4.6" stroke="#5a5a5a" stroke-width="0.15">°</text><text x="12.8" y="2.0" font-size="5.4">)</text></g>
<path d="M123.00,104.50 H133.70" stroke="#222" stroke-width="0.90"/>
<path d="M145.10,104.50 H155.70" stroke="#222" stroke-width="0.90" stroke-dasharray="2.2,1.6"/>
<rect x="127.25" y="103.45" width="2.1" height="2.1" fill="#000"/>
<rect x="149.35" y="103.45" width="2.1" height="2.1" fill="#000"/>
<text x="135.20" y="106.50" class="lg" textLength="5.10" lengthAdjust="spacingAndGlyphs">18</text>
<text x="140.40" y="106.50" class="lg" font-size="4.5">°</text>
<text x="158.00" y="106.50" class="lg" textLength="5.20" lengthAdjust="spacingAndGlyphs">18</text>
<text x="163.30" y="106.50" class="lg" font-size="4.5">°</text>
<g transform="translate(102.30,110.50) scale(1.000,1)" class="lg"><text x="0" y="1.3" font-size="5.6" stroke="#5a5a5a" stroke-width="0.15">α</text><text x="3.7" y="2.9" font-size="4.6" stroke="#5a5a5a" stroke-width="0.1">s</text><text x="6.5" y="2.0" font-size="5.4">(</text><text x="8.9" y="1.1" font-size="4.6" stroke="#5a5a5a" stroke-width="0.15">°</text><text x="12.8" y="2.0" font-size="5.4">)</text></g>
<path d="M123.00,110.50 H133.70" stroke="#ff3b3b" stroke-width="0.80"/>
<path d="M145.10,110.50 H155.70" stroke="#ff3b3b" stroke-width="0.80" stroke-dasharray="2.2,1.6"/>
<circle cx="128.30" cy="110.50" r="1.15" fill="#ff0000"/>
<circle cx="150.40" cy="110.50" r="1.15" fill="#ff0000"/>
<text x="135.20" y="112.50" class="lg" textLength="5.10" lengthAdjust="spacingAndGlyphs">20</text>
<text x="140.40" y="112.50" class="lg" font-size="4.5">°</text>
<text x="158.00" y="112.50" class="lg" textLength="5.20" lengthAdjust="spacingAndGlyphs">20</text>
<text x="163.30" y="112.50" class="lg" font-size="4.5">°</text>
<g transform="translate(102.30,117.50) scale(1.000,1)" class="lg"><text x="0" y="1.3" font-size="5.6" stroke="#5a5a5a" stroke-width="0.15">α</text><text x="3.7" y="2.9" font-size="4.6" stroke="#5a5a5a" stroke-width="0.1">s</text><text x="6.5" y="2.0" font-size="5.4">(</text><text x="8.9" y="1.1" font-size="4.6" stroke="#5a5a5a" stroke-width="0.15">°</text><text x="12.8" y="2.0" font-size="5.4">)</text></g>
<path d="M123.00,117.50 H133.70" stroke="#3a93f2" stroke-width="1.00"/>
<path d="M145.10,117.50 H155.70" stroke="#3a93f2" stroke-width="1.00" stroke-dasharray="2.2,1.6"/>
<circle cx="128.30" cy="117.50" r="1.15" fill="#1f7ae6"/>
<path d="M150.40,116.10 l1.3,2.2 h-2.6z" fill="#1f7ae6"/>
<text x="135.20" y="119.50" class="lg" textLength="5.10" lengthAdjust="spacingAndGlyphs">22</text>
<text x="140.40" y="119.50" class="lg" font-size="4.5">°</text>
<text x="158.00" y="119.50" class="lg" textLength="5.20" lengthAdjust="spacingAndGlyphs">22</text>
<text x="163.30" y="119.50" class="lg" font-size="4.5">°</text>
<g transform="translate(395.90,23.50) scale(1.027,1)" class="lg"><text x="0" y="1.3" font-size="5.6" stroke="#5a5a5a" stroke-width="0.15">α</text><text x="3.7" y="2.9" font-size="4.6" stroke="#5a5a5a" stroke-width="0.1">s</text><text x="6.5" y="2.0" font-size="5.4">(</text><text x="8.9" y="1.1" font-size="4.6" stroke="#5a5a5a" stroke-width="0.15">°</text><text x="12.8" y="2.0" font-size="5.4">)</text></g>
<path d="M418.50,23.50 H429.20" stroke="#222" stroke-width="0.90"/>
<path d="M440.70,23.50 H452.10" stroke="#222" stroke-width="0.90" stroke-dasharray="2.2,1.6"/>
<rect x="422.95" y="22.45" width="2.1" height="2.1" fill="#000"/>
<rect x="444.85" y="22.45" width="2.1" height="2.1" fill="#000"/>
<text x="431.00" y="25.50" class="lg" textLength="5.40" lengthAdjust="spacingAndGlyphs">18</text>
<text x="436.50" y="25.50" class="lg" font-size="4.5">°</text>
<text x="453.70" y="25.50" class="lg" textLength="5.30" lengthAdjust="spacingAndGlyphs">18</text>
<text x="459.10" y="25.50" class="lg" font-size="4.5">°</text>
<g transform="translate(395.90,30.50) scale(1.027,1)" class="lg"><text x="0" y="1.3" font-size="5.6" stroke="#5a5a5a" stroke-width="0.15">α</text><text x="3.7" y="2.9" font-size="4.6" stroke="#5a5a5a" stroke-width="0.1">s</text><text x="6.5" y="2.0" font-size="5.4">(</text><text x="8.9" y="1.1" font-size="4.6" stroke="#5a5a5a" stroke-width="0.15">°</text><text x="12.8" y="2.0" font-size="5.4">)</text></g>
<path d="M418.50,30.50 H429.20" stroke="#ff3b3b" stroke-width="0.80"/>
<path d="M440.70,30.50 H452.10" stroke="#ff3b3b" stroke-width="0.80" stroke-dasharray="2.2,1.6"/>
<circle cx="424.00" cy="30.50" r="1.15" fill="#ff0000"/>
<circle cx="445.90" cy="30.50" r="1.15" fill="#ff0000"/>
<text x="431.00" y="32.50" class="lg" textLength="5.40" lengthAdjust="spacingAndGlyphs">20</text>
<text x="436.50" y="32.50" class="lg" font-size="4.5">°</text>
<text x="453.70" y="32.50" class="lg" textLength="5.30" lengthAdjust="spacingAndGlyphs">20</text>
<text x="459.10" y="32.50" class="lg" font-size="4.5">°</text>
<g transform="translate(395.90,36.50) scale(1.027,1)" class="lg"><text x="0" y="1.3" font-size="5.6" stroke="#5a5a5a" stroke-width="0.15">α</text><text x="3.7" y="2.9" font-size="4.6" stroke="#5a5a5a" stroke-width="0.1">s</text><text x="6.5" y="2.0" font-size="5.4">(</text><text x="8.9" y="1.1" font-size="4.6" stroke="#5a5a5a" stroke-width="0.15">°</text><text x="12.8" y="2.0" font-size="5.4">)</text></g>
<path d="M418.50,36.50 H429.20" stroke="#3a93f2" stroke-width="1.00"/>
<path d="M440.70,36.50 H452.10" stroke="#3a93f2" stroke-width="1.00" stroke-dasharray="2.2,1.6"/>
<circle cx="424.00" cy="36.50" r="1.15" fill="#1f7ae6"/>
<path d="M445.90,35.10 l1.3,2.2 h-2.6z" fill="#1f7ae6"/>
<text x="431.00" y="38.50" class="lg" textLength="5.40" lengthAdjust="spacingAndGlyphs">22</text>
<text x="436.50" y="38.50" class="lg" font-size="4.5">°</text>
<text x="453.70" y="38.50" class="lg" textLength="5.30" lengthAdjust="spacingAndGlyphs">22</text>
<text x="459.10" y="38.50" class="lg" font-size="4.5">°</text>
<g transform="translate(103.20,282.50) scale(1.068,1)" class="lg"><text x="0" y="1.3" font-size="5.6" stroke="#5a5a5a" stroke-width="0.15">α</text><text x="3.7" y="2.9" font-size="4.6" stroke="#5a5a5a" stroke-width="0.1">s</text><text x="6.5" y="2.0" font-size="5.4">(</text><text x="8.9" y="1.1" font-size="4.6" stroke="#5a5a5a" stroke-width="0.15">°</text><text x="12.8" y="2.0" font-size="5.4">)</text></g>
<path d="M126.60,282.50 H136.90" stroke="#222" stroke-width="0.90"/>
<path d="M148.70,282.50 H159.80" stroke="#222" stroke-width="0.90" stroke-dasharray="2.2,1.6"/>
<rect x="130.75" y="281.45" width="2.1" height="2.1" fill="#000"/>
<rect x="153.65" y="281.45" width="2.1" height="2.1" fill="#000"/>
<text x="139.10" y="284.50" class="lg" textLength="5.00" lengthAdjust="spacingAndGlyphs">18</text>
<text x="144.20" y="284.50" class="lg" font-size="4.5">°</text>
<text x="162.00" y="284.50" class="lg" textLength="5.00" lengthAdjust="spacingAndGlyphs">18</text>
<text x="167.10" y="284.50" class="lg" font-size="4.5">°</text>
<g transform="translate(103.20,289.50) scale(1.068,1)" class="lg"><text x="0" y="1.3" font-size="5.6" stroke="#5a5a5a" stroke-width="0.15">α</text><text x="3.7" y="2.9" font-size="4.6" stroke="#5a5a5a" stroke-width="0.1">s</text><text x="6.5" y="2.0" font-size="5.4">(</text><text x="8.9" y="1.1" font-size="4.6" stroke="#5a5a5a" stroke-width="0.15">°</text><text x="12.8" y="2.0" font-size="5.4">)</text></g>
<path d="M126.60,289.50 H136.90" stroke="#ff3b3b" stroke-width="0.80"/>
<path d="M148.70,289.50 H159.80" stroke="#ff3b3b" stroke-width="0.80" stroke-dasharray="2.2,1.6"/>
<circle cx="131.80" cy="289.50" r="1.15" fill="#ff0000"/>
<circle cx="154.70" cy="289.50" r="1.15" fill="#ff0000"/>
<text x="139.10" y="291.50" class="lg" textLength="5.00" lengthAdjust="spacingAndGlyphs">20</text>
<text x="144.20" y="291.50" class="lg" font-size="4.5">°</text>
<text x="162.00" y="291.50" class="lg" textLength="5.00" lengthAdjust="spacingAndGlyphs">20</text>
<text x="167.10" y="291.50" class="lg" font-size="4.5">°</text>
<g transform="translate(103.20,295.50) scale(1.068,1)" class="lg"><text x="0" y="1.3" font-size="5.6" stroke="#5a5a5a" stroke-width="0.15">α</text><text x="3.7" y="2.9" font-size="4.6" stroke="#5a5a5a" stroke-width="0.1">s</text><text x="6.5" y="2.0" font-size="5.4">(</text><text x="8.9" y="1.1" font-size="4.6" stroke="#5a5a5a" stroke-width="0.15">°</text><text x="12.8" y="2.0" font-size="5.4">)</text></g>
<path d="M126.60,295.50 H136.90" stroke="#3a93f2" stroke-width="1.00"/>
<path d="M148.70,295.50 H159.80" stroke="#3a93f2" stroke-width="1.00" stroke-dasharray="2.2,1.6"/>
<circle cx="131.80" cy="295.50" r="1.15" fill="#1f7ae6"/>
<path d="M154.70,294.10 l1.3,2.2 h-2.6z" fill="#1f7ae6"/>
<text x="139.10" y="297.50" class="lg" textLength="5.00" lengthAdjust="spacingAndGlyphs">22</text>
<text x="144.20" y="297.50" class="lg" font-size="4.5">°</text>
<text x="162.00" y="297.50" class="lg" textLength="5.00" lengthAdjust="spacingAndGlyphs">22</text>
<text x="167.10" y="297.50" class="lg" font-size="4.5">°</text>
<g transform="translate(412.20,205.50) scale(0.946,1)" class="lg"><text x="0" y="1.3" font-size="5.6" stroke="#5a5a5a" stroke-width="0.15">α</text><text x="3.7" y="2.9" font-size="4.6" stroke="#5a5a5a" stroke-width="0.1">s</text><text x="6.5" y="2.0" font-size="5.4">(</text><text x="8.9" y="1.1" font-size="4.6" stroke="#5a5a5a" stroke-width="0.15">°</text><text x="12.8" y="2.0" font-size="5.4">)</text></g>
<path d="M432.40,205.50 H441.40" stroke="#222" stroke-width="0.90"/>
<path d="M451.90,205.50 H459.50" stroke="#222" stroke-width="0.90" stroke-dasharray="2.2,1.6"/>
<rect x="435.75" y="204.45" width="2.1" height="2.1" fill="#000"/>
<rect x="454.95" y="204.45" width="2.1" height="2.1" fill="#000"/>
<text x="443.50" y="207.50" class="lg" textLength="4.60" lengthAdjust="spacingAndGlyphs">18</text>
<text x="448.20" y="207.50" class="lg" font-size="4.5">°</text>
<text x="462.30" y="207.50" class="lg" textLength="5.30" lengthAdjust="spacingAndGlyphs">18</text>
<text x="467.70" y="207.50" class="lg" font-size="4.5">°</text>
<g transform="translate(412.20,211.50) scale(0.946,1)" class="lg"><text x="0" y="1.3" font-size="5.6" stroke="#5a5a5a" stroke-width="0.15">α</text><text x="3.7" y="2.9" font-size="4.6" stroke="#5a5a5a" stroke-width="0.1">s</text><text x="6.5" y="2.0" font-size="5.4">(</text><text x="8.9" y="1.1" font-size="4.6" stroke="#5a5a5a" stroke-width="0.15">°</text><text x="12.8" y="2.0" font-size="5.4">)</text></g>
<path d="M432.40,211.50 H441.40" stroke="#ff3b3b" stroke-width="0.80"/>
<path d="M451.90,211.50 H459.50" stroke="#ff3b3b" stroke-width="0.80" stroke-dasharray="2.2,1.6"/>
<circle cx="436.80" cy="211.50" r="1.15" fill="#ff0000"/>
<circle cx="456.00" cy="211.50" r="1.15" fill="#ff0000"/>
<text x="443.50" y="213.50" class="lg" textLength="4.60" lengthAdjust="spacingAndGlyphs">20</text>
<text x="448.20" y="213.50" class="lg" font-size="4.5">°</text>
<text x="462.30" y="213.50" class="lg" textLength="5.30" lengthAdjust="spacingAndGlyphs">20</text>
<text x="467.70" y="213.50" class="lg" font-size="4.5">°</text>
<g transform="translate(412.20,217.50) scale(0.946,1)" class="lg"><text x="0" y="1.3" font-size="5.6" stroke="#5a5a5a" stroke-width="0.15">α</text><text x="3.7" y="2.9" font-size="4.6" stroke="#5a5a5a" stroke-width="0.1">s</text><text x="6.5" y="2.0" font-size="5.4">(</text><text x="8.9" y="1.1" font-size="4.6" stroke="#5a5a5a" stroke-width="0.15">°</text><text x="12.8" y="2.0" font-size="5.4">)</text></g>
<path d="M432.40,217.50 H441.40" stroke="#3a93f2" stroke-width="1.00"/>
<path d="M451.90,217.50 H459.50" stroke="#3a93f2" stroke-width="1.00" stroke-dasharray="2.2,1.6"/>
<circle cx="436.80" cy="217.50" r="1.15" fill="#1f7ae6"/>
<path d="M456.00,216.10 l1.3,2.2 h-2.6z" fill="#1f7ae6"/>
<text x="443.50" y="219.50" class="lg" textLength="4.60" lengthAdjust="spacingAndGlyphs">22</text>
<text x="448.20" y="219.50" class="lg" font-size="4.5">°</text>
<text x="462.30" y="219.50" class="lg" textLength="5.30" lengthAdjust="spacingAndGlyphs">22</text>
<text x="467.70" y="219.50" class="lg" font-size="4.5">°</text>
<g transform="translate(114.20,474.50) scale(0.946,1)" class="lg"><text x="0" y="1.3" font-size="5.6" stroke="#5a5a5a" stroke-width="0.15">α</text><text x="3.7" y="2.9" font-size="4.6" stroke="#5a5a5a" stroke-width="0.1">s</text><text x="6.5" y="2.0" font-size="5.4">(</text><text x="8.9" y="1.1" font-size="4.6" stroke="#5a5a5a" stroke-width="0.15">°</text><text x="12.8" y="2.0" font-size="5.4">)</text></g>
<path d="M134.80,474.50 H144.10" stroke="#222" stroke-width="0.90"/>
<path d="M153.90,474.50 H161.50" stroke="#222" stroke-width="0.90" stroke-dasharray="2.2,1.6"/>
<rect x="138.15" y="473.45" width="2.1" height="2.1" fill="#000"/>
<rect x="157.65" y="473.45" width="2.1" height="2.1" fill="#000"/>
<text x="145.50" y="476.50" class="lg" textLength="3.90" lengthAdjust="spacingAndGlyphs">16</text>
<text x="149.50" y="476.50" class="lg" font-size="4.5">°</text>
<text x="165.00" y="476.50" class="lg" textLength="3.90" lengthAdjust="spacingAndGlyphs">16</text>
<text x="169.00" y="476.50" class="lg" font-size="4.5">°</text>
<g transform="translate(114.20,480.50) scale(0.946,1)" class="lg"><text x="0" y="1.3" font-size="5.6" stroke="#5a5a5a" stroke-width="0.15">α</text><text x="3.7" y="2.9" font-size="4.6" stroke="#5a5a5a" stroke-width="0.1">s</text><text x="6.5" y="2.0" font-size="5.4">(</text><text x="8.9" y="1.1" font-size="4.6" stroke="#5a5a5a" stroke-width="0.15">°</text><text x="12.8" y="2.0" font-size="5.4">)</text></g>
<path d="M134.80,480.50 H144.10" stroke="#ff3b3b" stroke-width="0.80"/>
<path d="M153.90,480.50 H161.50" stroke="#ff3b3b" stroke-width="0.80" stroke-dasharray="2.2,1.6"/>
<circle cx="139.20" cy="480.50" r="1.15" fill="#ff0000"/>
<circle cx="158.70" cy="480.50" r="1.15" fill="#ff0000"/>
<text x="145.50" y="482.50" class="lg" textLength="3.90" lengthAdjust="spacingAndGlyphs">18</text>
<text x="149.50" y="482.50" class="lg" font-size="4.5">°</text>
<text x="165.00" y="482.50" class="lg" textLength="3.90" lengthAdjust="spacingAndGlyphs">18</text>
<text x="169.00" y="482.50" class="lg" font-size="4.5">°</text>
<g transform="translate(114.20,486.50) scale(0.946,1)" class="lg"><text x="0" y="1.3" font-size="5.6" stroke="#5a5a5a" stroke-width="0.15">α</text><text x="3.7" y="2.9" font-size="4.6" stroke="#5a5a5a" stroke-width="0.1">s</text><text x="6.5" y="2.0" font-size="5.4">(</text><text x="8.9" y="1.1" font-size="4.6" stroke="#5a5a5a" stroke-width="0.15">°</text><text x="12.8" y="2.0" font-size="5.4">)</text></g>
<path d="M134.80,486.50 H144.10" stroke="#3a93f2" stroke-width="1.00"/>
<path d="M153.90,486.50 H161.50" stroke="#3a93f2" stroke-width="1.00" stroke-dasharray="2.2,1.6"/>
<circle cx="139.20" cy="486.50" r="1.15" fill="#1f7ae6"/>
<path d="M158.70,485.10 l1.3,2.2 h-2.6z" fill="#1f7ae6"/>
<text x="145.50" y="488.50" class="lg" textLength="3.90" lengthAdjust="spacingAndGlyphs">20</text>
<text x="149.50" y="488.50" class="lg" font-size="4.5">°</text>
<text x="165.00" y="488.50" class="lg" textLength="3.90" lengthAdjust="spacingAndGlyphs">20</text>
<text x="169.00" y="488.50" class="lg" font-size="4.5">°</text>
<g transform="translate(334.50,463.50) scale(1.109,1)" class="lg"><text x="0" y="1.3" font-size="5.6" stroke="#5a5a5a" stroke-width="0.15">α</text><text x="3.7" y="2.9" font-size="4.6" stroke="#5a5a5a" stroke-width="0.1">s</text><text x="6.5" y="2.0" font-size="5.4">(</text><text x="8.9" y="1.1" font-size="4.6" stroke="#5a5a5a" stroke-width="0.15">°</text><text x="12.8" y="2.0" font-size="5.4">)</text></g>
<path d="M358.90,463.50 H369.80" stroke="#222" stroke-width="0.90"/>
<path d="M382.10,463.50 H394.10" stroke="#222" stroke-width="0.90" stroke-dasharray="2.2,1.6"/>
<rect x="363.45" y="462.45" width="2.1" height="2.1" fill="#000"/>
<rect x="386.65" y="462.45" width="2.1" height="2.1" fill="#000"/>
<text x="372.00" y="465.50" class="lg" textLength="6.00" lengthAdjust="spacingAndGlyphs">16</text>
<text x="378.10" y="465.50" class="lg" font-size="4.5">°</text>
<text x="395.70" y="465.50" class="lg" textLength="5.60" lengthAdjust="spacingAndGlyphs">16</text>
<text x="401.40" y="465.50" class="lg" font-size="4.5">°</text>
<g transform="translate(334.50,470.50) scale(1.109,1)" class="lg"><text x="0" y="1.3" font-size="5.6" stroke="#5a5a5a" stroke-width="0.15">α</text><text x="3.7" y="2.9" font-size="4.6" stroke="#5a5a5a" stroke-width="0.1">s</text><text x="6.5" y="2.0" font-size="5.4">(</text><text x="8.9" y="1.1" font-size="4.6" stroke="#5a5a5a" stroke-width="0.15">°</text><text x="12.8" y="2.0" font-size="5.4">)</text></g>
<path d="M358.90,470.50 H369.80" stroke="#ff3b3b" stroke-width="0.80"/>
<path d="M382.10,470.50 H394.10" stroke="#ff3b3b" stroke-width="0.80" stroke-dasharray="2.2,1.6"/>
<circle cx="364.50" cy="470.50" r="1.15" fill="#ff0000"/>
<circle cx="387.70" cy="470.50" r="1.15" fill="#ff0000"/>
<text x="372.00" y="472.50" class="lg" textLength="6.00" lengthAdjust="spacingAndGlyphs">18</text>
<text x="378.10" y="472.50" class="lg" font-size="4.5">°</text>
<text x="395.70" y="472.50" class="lg" textLength="5.60" lengthAdjust="spacingAndGlyphs">18</text>
<text x="401.40" y="472.50" class="lg" font-size="4.5">°</text>
<g transform="translate(334.50,477.50) scale(1.109,1)" class="lg"><text x="0" y="1.3" font-size="5.6" stroke="#5a5a5a" stroke-width="0.15">α</text><text x="3.7" y="2.9" font-size="4.6" stroke="#5a5a5a" stroke-width="0.1">s</text><text x="6.5" y="2.0" font-size="5.4">(</text><text x="8.9" y="1.1" font-size="4.6" stroke="#5a5a5a" stroke-width="0.15">°</text><text x="12.8" y="2.0" font-size="5.4">)</text></g>
<path d="M358.90,477.50 H369.80" stroke="#3a93f2" stroke-width="1.00"/>
<path d="M382.10,477.50 H394.10" stroke="#3a93f2" stroke-width="1.00" stroke-dasharray="2.2,1.6"/>
<circle cx="364.50" cy="477.50" r="1.15" fill="#1f7ae6"/>
<path d="M387.70,476.10 l1.3,2.2 h-2.6z" fill="#1f7ae6"/>
<text x="372.00" y="479.50" class="lg" textLength="6.00" lengthAdjust="spacingAndGlyphs">20</text>
<text x="378.10" y="479.50" class="lg" font-size="4.5">°</text>
<text x="395.70" y="479.50" class="lg" textLength="5.60" lengthAdjust="spacingAndGlyphs">20</text>
<text x="401.40" y="479.50" class="lg" font-size="4.5">°</text>
</svg>
</body></html>
